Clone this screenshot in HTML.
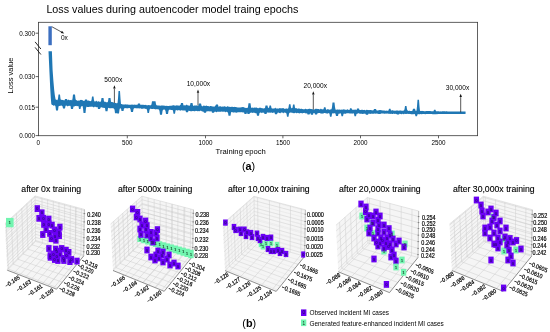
<!DOCTYPE html>
<html><head><meta charset="utf-8"><title>Loss values during autoencoder model training epochs</title>
<style>html,body{margin:0;padding:0;background:#fff}svg{display:block;font-family:"Liberation Sans", Arial, Helvetica, sans-serif}</style></head>
<body><svg width="550" height="332" viewBox="0 0 550 332">
<rect width="550" height="332" fill="#fff"/>
<text x="46.4" y="12.8" font-size="10.8" fill="#000" textLength="252" lengthAdjust="spacingAndGlyphs">Loss values during autoencoder model traing epochs</text>
<path d="M48.50 51.20 L51.90 51.20 L52.60 70.00 L53.40 81.00 L54.20 90.00 L54.80 95.00 L55.60 99.50 L56.00 99.54 L56.50 99.64 L57.00 100.18 L57.50 99.88 L58.00 98.59 L58.50 94.50 L59.00 94.50 L59.50 94.50 L60.00 94.50 L60.50 98.66 L61.00 99.89 L61.50 99.76 L62.00 99.77 L62.50 100.04 L63.00 100.05 L63.50 100.24 L64.00 100.25 L64.50 100.44 L65.00 99.00 L65.50 99.00 L66.00 99.00 L66.50 99.00 L67.00 99.00 L67.50 100.21 L68.00 100.22 L68.50 99.60 L69.00 99.83 L69.50 100.34 L70.00 100.35 L70.50 100.10 L71.00 100.11 L71.50 99.65 L72.00 100.63 L72.50 98.81 L73.00 94.50 L73.50 94.50 L74.00 94.50 L74.50 94.50 L75.00 94.50 L75.50 98.84 L76.00 100.19 L76.50 100.01 L77.00 100.45 L77.50 100.74 L78.00 100.76 L78.50 100.61 L79.00 100.62 L79.50 100.63 L80.00 99.97 L80.50 100.00 L81.00 99.86 L81.50 99.89 L82.00 99.96 L82.50 99.99 L83.00 100.93 L83.50 100.63 L84.00 100.87 L84.50 100.90 L85.00 99.50 L85.50 99.50 L86.00 99.50 L86.50 99.50 L87.00 99.50 L87.50 100.67 L88.00 100.70 L88.50 100.43 L89.00 100.46 L89.50 101.08 L90.00 101.11 L90.50 101.14 L91.00 101.08 L91.50 100.25 L92.00 96.50 L92.50 96.50 L93.00 96.50 L93.50 96.50 L94.00 100.32 L94.50 101.40 L95.00 101.43 L95.50 101.46 L96.00 100.75 L96.50 100.78 L97.00 101.60 L97.50 101.63 L98.00 101.19 L98.50 101.22 L99.00 101.51 L99.50 101.70 L100.00 101.73 L100.50 101.76 L101.00 101.28 L101.50 98.00 L102.00 98.00 L102.50 98.00 L103.00 98.00 L103.50 98.00 L104.00 101.39 L104.50 101.55 L105.00 102.22 L105.50 101.38 L106.00 102.24 L106.50 102.28 L107.00 102.13 L107.50 102.17 L108.00 101.53 L108.50 98.00 L109.00 98.00 L109.50 98.00 L110.00 98.00 L110.50 98.00 L111.00 101.64 L111.50 102.02 L112.00 102.12 L112.50 102.16 L113.00 102.06 L113.50 102.61 L114.00 102.99 L114.50 103.09 L115.00 102.88 L115.50 102.99 L116.00 102.85 L116.50 103.52 L117.00 103.01 L117.50 103.13 L118.00 98.48 L118.50 91.10 L119.00 91.10 L119.50 91.10 L120.00 91.10 L120.50 98.59 L121.00 104.16 L121.50 103.98 L122.00 104.11 L122.50 104.61 L123.00 104.54 L123.50 104.56 L124.00 104.57 L124.50 104.43 L125.00 104.44 L125.50 104.24 L126.00 104.40 L126.50 104.41 L127.00 104.55 L127.50 104.56 L128.00 104.58 L128.50 104.71 L129.00 104.73 L129.50 104.74 L130.00 104.78 L130.50 104.79 L131.00 104.80 L131.50 104.56 L132.00 104.78 L132.50 104.61 L133.00 104.63 L133.50 104.65 L134.00 104.66 L134.50 104.46 L135.00 104.81 L135.50 104.74 L136.00 104.76 L136.50 104.77 L137.00 104.79 L137.50 104.72 L138.00 103.50 L138.50 103.50 L139.00 103.50 L139.50 103.50 L140.00 103.50 L140.50 104.88 L141.00 104.68 L141.50 104.70 L142.00 104.71 L142.50 104.70 L143.00 104.72 L143.50 104.78 L144.00 105.05 L144.50 105.05 L145.00 104.87 L145.50 104.89 L146.00 104.81 L146.50 105.24 L147.00 105.26 L147.50 105.25 L148.00 105.26 L148.50 104.92 L149.00 104.94 L149.50 105.34 L150.00 105.25 L150.50 105.27 L151.00 105.29 L151.50 104.19 L152.00 101.30 L152.50 101.30 L153.00 101.30 L153.50 101.30 L154.00 101.30 L154.50 101.30 L155.00 101.30 L155.50 101.30 L156.00 104.31 L156.50 105.26 L157.00 105.28 L157.50 105.55 L158.00 105.57 L158.50 105.50 L159.00 105.52 L159.50 105.54 L160.00 105.70 L160.50 105.66 L161.00 105.56 L161.50 105.60 L162.00 105.47 L162.50 105.49 L163.00 105.42 L163.50 105.44 L164.00 105.69 L164.50 105.71 L165.00 105.54 L165.50 105.99 L166.00 105.98 L166.50 105.71 L167.00 105.71 L167.50 105.88 L168.00 105.88 L168.50 105.96 L169.00 105.96 L169.50 105.73 L170.00 105.73 L170.50 105.71 L171.00 105.86 L171.50 105.85 L172.00 105.60 L172.50 105.59 L173.00 105.33 L173.50 105.30 L174.00 105.27 L174.50 105.71 L175.00 105.35 L175.50 105.66 L176.00 105.65 L176.50 105.26 L177.00 105.23 L177.50 105.47 L178.00 105.46 L178.50 105.56 L179.00 105.85 L179.50 105.83 L180.00 104.93 L180.50 104.90 L181.00 103.00 L181.50 103.00 L182.00 103.00 L182.50 103.00 L183.00 103.00 L183.50 105.50 L184.00 105.25 L184.50 105.24 L185.00 105.52 L185.50 105.54 L186.00 104.82 L186.50 104.84 L187.00 104.85 L187.50 105.23 L188.00 105.52 L188.50 105.54 L189.00 105.55 L189.50 105.77 L190.00 105.58 L190.50 103.00 L191.00 103.00 L191.50 103.00 L192.00 103.00 L192.50 103.00 L193.00 105.62 L193.50 105.88 L194.00 105.50 L194.50 105.52 L195.00 105.53 L195.50 105.26 L196.00 106.00 L196.50 105.13 L197.00 105.15 L197.50 105.63 L198.00 105.65 L198.50 105.54 L199.00 103.50 L199.50 103.50 L200.00 103.50 L200.50 103.50 L201.00 103.50 L201.50 105.39 L202.00 106.22 L202.50 106.24 L203.00 106.26 L203.50 105.57 L204.00 105.59 L204.50 105.70 L205.00 105.98 L205.50 105.99 L206.00 105.55 L206.50 105.57 L207.00 105.92 L207.50 105.96 L208.00 105.95 L208.50 105.97 L209.00 106.48 L209.50 106.50 L210.00 105.95 L210.50 105.95 L211.00 105.97 L211.50 106.24 L212.00 106.26 L212.50 106.51 L213.00 106.53 L213.50 106.55 L214.00 106.68 L214.50 106.70 L215.00 105.81 L215.50 105.83 L216.00 104.50 L216.50 104.50 L217.00 104.50 L217.50 104.50 L218.00 104.50 L218.50 106.70 L219.00 106.72 L219.50 106.18 L220.00 106.20 L220.50 106.22 L221.00 106.38 L221.50 106.71 L222.00 106.73 L222.50 106.46 L223.00 106.48 L223.50 106.77 L224.00 106.35 L224.50 106.37 L225.00 106.39 L225.50 106.55 L226.00 107.01 L226.50 107.03 L227.00 106.29 L227.50 106.31 L228.00 106.41 L228.50 106.44 L229.00 107.11 L229.50 106.80 L230.00 106.82 L230.50 107.04 L231.00 107.06 L231.50 106.72 L232.00 106.74 L232.50 106.73 L233.00 107.03 L233.50 107.05 L234.00 107.07 L234.50 106.68 L235.00 106.90 L235.50 106.92 L236.00 106.94 L236.50 107.23 L237.00 107.26 L237.50 107.57 L238.00 107.59 L238.50 107.61 L239.00 107.52 L239.50 107.54 L240.00 107.45 L240.50 107.47 L241.00 107.35 L241.50 107.37 L242.00 107.30 L242.50 107.04 L243.00 107.06 L243.50 107.08 L244.00 107.57 L244.50 107.61 L245.00 107.64 L245.50 107.91 L246.00 107.77 L246.50 107.88 L247.00 107.90 L247.50 107.92 L248.00 106.72 L248.50 103.30 L249.00 103.30 L249.50 103.30 L250.00 103.30 L250.50 103.30 L251.00 106.76 L251.50 107.89 L252.00 107.90 L252.50 107.47 L253.00 107.48 L253.50 108.14 L254.00 107.37 L254.50 107.38 L255.00 107.97 L255.50 107.52 L256.00 107.53 L256.50 107.54 L257.00 107.63 L257.50 107.90 L258.00 108.25 L258.50 108.26 L259.00 107.67 L259.50 107.82 L260.00 107.85 L260.50 107.79 L261.00 107.80 L261.50 108.17 L262.00 108.11 L262.50 108.37 L263.00 108.38 L263.50 108.39 L264.00 108.23 L264.50 108.24 L265.00 107.89 L265.50 105.40 L266.00 105.40 L266.50 105.40 L267.00 105.40 L267.50 105.40 L268.00 107.69 L268.50 107.70 L269.00 107.92 L269.50 105.40 L270.00 105.40 L270.50 105.40 L271.00 105.40 L271.50 107.93 L272.00 108.41 L272.50 108.50 L273.00 108.51 L273.50 108.47 L274.00 108.47 L274.50 108.48 L275.00 107.84 L275.50 107.85 L276.00 108.54 L276.50 108.54 L277.00 108.55 L277.50 108.62 L278.00 108.62 L278.50 108.63 L279.00 108.36 L279.50 108.37 L280.00 108.12 L280.50 108.13 L281.00 108.50 L281.50 108.13 L282.00 108.14 L282.50 108.15 L283.00 108.07 L283.50 108.08 L284.00 108.66 L284.50 108.67 L285.00 108.73 L285.50 108.74 L286.00 108.39 L286.50 108.57 L287.00 108.58 L287.50 108.77 L288.00 108.78 L288.50 107.44 L289.00 104.20 L289.50 104.20 L290.00 104.20 L290.50 104.20 L291.00 107.46 L291.50 108.28 L292.00 108.35 L292.50 107.63 L293.00 104.50 L293.50 104.50 L294.00 104.50 L294.50 104.50 L295.00 107.66 L295.50 108.29 L296.00 108.31 L296.50 108.33 L297.00 108.34 L297.50 109.07 L298.00 108.57 L298.50 108.59 L299.00 108.53 L299.50 108.55 L300.00 109.09 L300.50 109.11 L301.00 108.58 L301.50 108.78 L302.00 108.92 L302.50 108.93 L303.00 109.21 L303.50 109.22 L304.00 109.23 L304.50 109.15 L305.00 108.99 L305.50 108.54 L306.00 109.18 L306.50 109.08 L307.00 109.27 L307.50 109.28 L308.00 108.96 L308.50 108.98 L309.00 108.78 L309.50 108.80 L310.00 108.81 L310.50 108.88 L311.00 109.08 L311.50 109.09 L312.00 109.37 L312.50 109.37 L313.00 109.36 L313.50 109.39 L314.00 109.40 L314.50 109.41 L315.00 108.75 L315.50 108.76 L316.00 109.09 L316.50 108.78 L317.00 108.79 L317.50 108.90 L318.00 108.91 L318.50 108.89 L319.00 108.89 L319.50 109.45 L320.00 109.46 L320.50 108.86 L321.00 108.87 L321.50 108.88 L322.00 109.39 L322.50 109.22 L323.00 109.23 L323.50 109.32 L324.00 107.30 L324.50 107.30 L325.00 107.30 L325.50 107.30 L326.00 109.33 L326.50 109.64 L327.00 109.65 L327.50 109.12 L328.00 109.24 L328.50 109.25 L329.00 109.66 L329.50 109.67 L330.00 109.38 L330.50 109.38 L331.00 109.19 L331.50 109.33 L332.00 106.96 L332.50 102.50 L333.00 102.50 L333.50 102.50 L334.00 102.50 L334.50 102.50 L335.00 106.97 L335.50 109.38 L336.00 109.69 L336.50 109.70 L337.00 109.57 L337.50 109.46 L338.00 109.47 L338.50 109.76 L339.00 109.44 L339.50 109.49 L340.00 109.76 L340.50 109.77 L341.00 109.77 L341.50 109.56 L342.00 109.66 L342.50 109.72 L343.00 109.22 L343.50 109.53 L344.00 109.30 L344.50 109.52 L345.00 109.69 L345.50 109.70 L346.00 109.70 L346.50 109.84 L347.00 109.85 L347.50 109.33 L348.00 109.33 L348.50 109.90 L349.00 109.90 L349.50 109.94 L350.00 108.30 L350.50 108.30 L351.00 108.30 L351.50 108.30 L352.00 109.62 L352.50 109.78 L353.00 109.74 L353.50 109.74 L354.00 109.67 L354.50 109.79 L355.00 109.52 L355.50 109.53 L356.00 110.00 L356.50 110.01 L357.00 108.50 L357.50 108.50 L358.00 108.50 L358.50 108.50 L359.00 108.50 L359.50 110.06 L360.00 110.06 L360.50 110.07 L361.00 110.08 L361.50 109.76 L362.00 109.77 L362.50 109.64 L363.00 110.07 L363.50 110.03 L364.00 110.04 L364.50 109.80 L365.00 110.16 L365.50 110.13 L366.00 110.15 L366.50 109.70 L367.00 109.71 L367.50 110.01 L368.00 110.02 L368.50 109.98 L369.00 110.16 L369.50 110.12 L370.00 109.96 L370.50 109.98 L371.00 109.92 L371.50 110.35 L372.00 110.36 L372.50 110.38 L373.00 110.14 L373.50 110.15 L374.00 109.00 L374.50 109.00 L375.00 109.00 L375.50 109.00 L376.00 109.00 L376.50 110.37 L377.00 110.38 L377.50 110.47 L378.00 110.43 L378.50 110.25 L379.00 110.26 L379.50 110.09 L380.00 110.10 L380.50 110.11 L381.00 110.24 L381.50 110.33 L382.00 110.34 L382.50 110.49 L383.00 110.50 L383.50 110.51 L384.00 110.58 L384.50 110.59 L385.00 110.66 L385.50 110.65 L386.00 110.66 L386.50 110.53 L387.00 110.64 L387.50 110.66 L388.00 110.67 L388.50 110.39 L389.00 108.70 L389.50 108.70 L390.00 108.70 L390.50 108.70 L391.00 110.43 L391.50 110.51 L392.00 110.30 L392.50 110.31 L393.00 110.32 L393.50 110.75 L394.00 110.58 L394.50 110.77 L395.00 110.82 L395.50 110.79 L396.00 110.55 L396.50 110.56 L397.00 110.57 L397.50 110.48 L398.00 110.48 L398.50 110.86 L399.00 110.87 L399.50 110.57 L400.00 110.58 L400.50 110.56 L401.00 110.57 L401.50 110.86 L402.00 110.87 L402.50 110.85 L403.00 110.86 L403.50 110.51 L404.00 110.52 L404.50 109.22 L405.00 106.10 L405.50 106.10 L406.00 106.10 L406.50 106.10 L407.00 109.23 L407.50 110.51 L408.00 110.52 L408.50 110.97 L409.00 110.91 L409.50 110.55 L410.00 110.94 L410.50 110.95 L411.00 110.94 L411.50 110.94 L412.00 110.95 L412.50 110.61 L413.00 108.80 L413.50 108.80 L414.00 108.80 L414.50 108.80 L415.00 108.80 L415.50 110.63 L416.00 110.65 L416.50 110.66 L417.00 106.13 L417.50 99.80 L418.00 99.80 L418.50 99.80 L419.00 99.80 L419.50 106.15 L420.00 110.72 L420.50 111.08 L421.00 111.09 L421.50 111.12 L422.00 110.81 L422.50 110.98 L423.00 110.99 L423.50 111.07 L424.00 111.16 L424.50 111.17 L425.00 111.17 L425.50 111.18 L426.00 110.94 L426.50 110.95 L427.00 110.93 L427.50 110.95 L428.00 110.99 L428.50 111.01 L429.00 111.02 L429.50 111.03 L430.00 111.12 L430.50 111.12 L431.00 111.26 L431.50 111.27 L432.00 111.28 L432.50 111.14 L433.00 111.15 L433.50 111.19 L434.00 109.80 L434.50 109.80 L435.00 109.80 L435.50 109.80 L436.00 111.20 L436.50 111.21 L437.00 111.29 L437.50 111.30 L438.00 111.26 L438.50 111.27 L439.00 111.29 L439.50 111.39 L440.00 111.39 L440.50 111.36 L441.00 111.39 L441.50 111.39 L442.00 111.36 L442.50 111.37 L443.00 111.37 L443.50 111.32 L444.00 111.35 L444.50 111.35 L445.00 111.35 L445.50 111.41 L446.00 111.35 L446.50 111.37 L447.00 111.37 L447.50 111.38 L448.00 111.39 L448.50 111.39 L449.00 111.45 L449.50 111.42 L450.00 111.45 L450.50 111.45 L451.00 111.46 L451.50 111.41 L452.00 111.46 L452.50 111.46 L453.00 111.46 L453.50 111.47 L454.00 111.46 L454.50 111.43 L455.00 111.43 L455.50 111.49 L456.00 111.48 L456.50 111.49 L457.00 111.50 L457.50 111.46 L458.00 111.46 L458.50 111.48 L459.00 111.48 L459.50 111.47 L460.00 111.47 L460.50 111.47 L461.00 111.47 L461.50 111.49 L462.00 111.50 L462.50 111.50 L463.00 111.50 L463.50 111.49 L464.00 111.49 L464.50 111.50 L465.00 111.53 L465.50 111.50 L465.60 112.80 L465.50 114.06 L465.00 114.06 L464.50 114.08 L464.00 114.08 L463.50 114.08 L463.00 114.08 L462.50 114.08 L462.00 114.08 L461.50 114.08 L461.00 114.06 L460.50 114.04 L460.00 114.04 L459.50 114.04 L459.00 114.04 L458.50 114.04 L458.00 114.06 L457.50 114.06 L457.00 114.09 L456.50 114.05 L456.00 114.05 L455.50 114.10 L455.00 114.06 L454.50 114.06 L454.00 114.11 L453.50 114.07 L453.00 114.11 L452.50 114.04 L452.00 114.04 L451.50 114.07 L451.00 114.03 L450.50 114.03 L450.00 114.03 L449.50 114.04 L449.00 114.05 L448.50 114.03 L448.00 114.03 L447.50 114.02 L447.00 114.02 L446.50 114.02 L446.00 114.05 L445.50 114.04 L445.00 114.08 L444.50 114.08 L444.00 114.08 L443.50 114.01 L443.00 114.04 L442.50 114.04 L442.00 114.04 L441.50 114.02 L441.00 114.02 L440.50 114.07 L440.00 114.11 L439.50 114.11 L439.00 114.07 L438.50 114.07 L438.00 114.07 L437.50 114.15 L437.00 113.99 L436.50 114.15 L436.00 114.15 L435.50 114.16 L435.00 114.16 L434.50 114.17 L434.00 114.18 L433.50 114.18 L433.00 114.15 L432.50 114.15 L432.00 114.06 L431.50 113.99 L431.00 113.99 L430.50 114.01 L430.00 113.99 L429.50 114.02 L429.00 114.02 L428.50 114.02 L428.00 113.94 L427.50 114.11 L427.00 114.11 L426.50 114.11 L426.00 114.11 L425.50 114.18 L425.00 114.18 L424.50 113.99 L424.00 113.99 L423.50 114.01 L423.00 113.94 L422.50 113.94 L422.00 114.14 L421.50 114.30 L421.00 113.96 L420.50 113.96 L420.00 114.21 L419.50 114.24 L419.00 114.21 L418.50 114.19 L418.00 113.91 L417.50 114.39 L417.00 116.30 L416.50 116.30 L416.00 116.30 L415.50 116.30 L415.00 114.38 L414.50 113.95 L414.00 114.00 L413.50 114.21 L413.00 114.20 L412.50 114.20 L412.00 114.23 L411.50 114.23 L411.00 114.23 L410.50 113.94 L410.00 113.94 L409.50 114.12 L409.00 113.86 L408.50 113.98 L408.00 113.88 L407.50 113.87 L407.00 113.87 L406.50 114.06 L406.00 114.06 L405.50 114.05 L405.00 113.84 L404.50 113.83 L404.00 114.18 L403.50 114.18 L403.00 113.74 L402.50 113.73 L402.00 114.21 L401.50 114.21 L401.00 113.89 L400.50 113.89 L400.00 113.70 L399.50 113.69 L399.00 114.50 L398.50 114.50 L398.00 114.50 L397.50 114.50 L397.00 114.50 L396.50 113.94 L396.00 113.93 L395.50 113.70 L395.00 113.86 L394.50 114.07 L394.00 113.77 L393.50 113.60 L393.00 113.94 L392.50 113.93 L392.00 113.93 L391.50 113.83 L391.00 113.82 L390.50 113.96 L390.00 113.64 L389.50 113.64 L389.00 113.98 L388.50 113.72 L388.00 113.52 L387.50 113.51 L387.00 113.79 L386.50 113.61 L386.00 113.63 L385.50 113.62 L385.00 113.73 L384.50 113.78 L384.00 113.77 L383.50 113.46 L383.00 113.46 L382.50 113.45 L382.00 113.61 L381.50 113.61 L381.00 113.49 L380.50 113.88 L380.00 113.88 L379.50 113.88 L379.00 113.94 L378.50 113.94 L378.00 113.63 L377.50 113.78 L377.00 113.42 L376.50 113.42 L376.00 113.67 L375.50 113.67 L375.00 113.55 L374.50 113.55 L374.00 113.64 L373.50 113.67 L373.00 113.67 L372.50 113.86 L372.00 113.86 L371.50 113.86 L371.00 113.49 L370.50 113.89 L370.00 113.89 L369.50 113.71 L369.00 113.39 L368.50 113.69 L368.00 114.70 L367.50 114.70 L367.00 114.70 L366.50 114.70 L366.00 114.70 L365.50 113.89 L365.00 113.53 L364.50 113.76 L364.00 113.82 L363.50 113.81 L363.00 113.94 L362.50 113.95 L362.00 113.78 L361.50 113.78 L361.00 113.75 L360.50 113.74 L360.00 113.74 L359.50 113.72 L359.00 113.32 L358.50 113.31 L358.00 113.31 L357.50 113.76 L357.00 113.76 L356.50 113.98 L356.00 116.30 L355.50 116.30 L355.00 116.30 L354.50 116.30 L354.00 113.97 L353.50 113.34 L353.00 113.33 L352.50 113.63 L352.00 113.40 L351.50 113.39 L351.00 113.54 L350.50 113.54 L350.00 113.39 L349.50 113.54 L349.00 113.34 L348.50 113.34 L348.00 113.29 L347.50 113.28 L347.00 113.31 L346.50 113.31 L346.00 113.74 L345.50 113.74 L345.00 113.74 L344.50 113.74 L344.00 113.56 L343.50 113.92 L343.00 116.30 L342.50 116.30 L342.00 116.30 L341.50 116.30 L341.00 113.91 L340.50 113.35 L340.00 113.34 L339.50 113.78 L339.00 113.76 L338.50 113.74 L338.00 116.00 L337.50 116.00 L337.00 116.00 L336.50 116.00 L336.00 116.00 L335.50 113.73 L335.00 113.34 L334.50 113.14 L334.00 113.13 L333.50 113.46 L333.00 113.35 L332.50 113.34 L332.00 114.06 L331.50 116.70 L331.00 116.70 L330.50 116.70 L330.00 116.70 L329.50 114.05 L329.00 113.10 L328.50 113.17 L328.00 113.17 L327.50 113.63 L327.00 113.56 L326.50 113.55 L326.00 113.16 L325.50 113.16 L325.00 113.08 L324.50 113.07 L324.00 113.07 L323.50 113.43 L323.00 113.58 L322.50 113.57 L322.00 113.65 L321.50 113.41 L321.00 113.40 L320.50 113.40 L320.00 113.05 L319.50 113.05 L319.00 113.04 L318.50 113.03 L318.00 113.13 L317.50 113.13 L317.00 114.50 L316.50 114.50 L316.00 114.50 L315.50 114.50 L315.00 114.50 L314.50 113.02 L314.00 113.01 L313.50 113.01 L313.00 114.70 L312.50 114.70 L312.00 114.70 L311.50 114.70 L311.00 114.70 L310.50 113.13 L310.00 113.42 L309.50 114.50 L309.00 114.50 L308.50 114.50 L308.00 114.50 L307.50 114.50 L307.00 112.96 L306.50 113.66 L306.00 112.91 L305.50 113.54 L305.00 113.21 L304.50 112.87 L304.00 112.93 L303.50 112.92 L303.00 112.91 L302.50 113.38 L302.00 113.37 L301.50 112.97 L301.00 113.31 L300.50 113.08 L300.00 113.07 L299.50 113.45 L299.00 113.44 L298.50 113.02 L298.00 113.01 L297.50 112.82 L297.00 113.14 L296.50 113.13 L296.00 113.12 L295.50 112.83 L295.00 112.82 L294.50 113.19 L294.00 113.18 L293.50 113.17 L293.00 112.81 L292.50 112.80 L292.00 113.30 L291.50 112.60 L291.00 112.58 L290.50 112.57 L290.00 112.81 L289.50 112.80 L289.00 113.69 L288.50 116.70 L288.00 116.70 L287.50 116.70 L287.00 116.70 L286.50 113.68 L286.00 113.10 L285.50 112.78 L285.00 112.78 L284.50 112.51 L284.00 112.51 L283.50 113.31 L283.00 113.31 L282.50 112.50 L282.00 112.50 L281.50 112.50 L281.00 112.58 L280.50 113.31 L280.00 113.31 L279.50 113.01 L279.00 113.00 L278.50 112.49 L278.00 112.48 L277.50 112.88 L277.00 114.20 L276.50 114.20 L276.00 114.20 L275.50 114.20 L275.00 114.20 L274.50 112.55 L274.00 112.55 L273.50 112.55 L273.00 112.88 L272.50 112.88 L272.00 112.53 L271.50 112.52 L271.00 112.76 L270.50 112.75 L270.00 112.50 L269.50 112.50 L269.00 112.95 L268.50 112.51 L268.00 112.51 L267.50 112.51 L267.00 112.50 L266.50 114.00 L266.00 114.00 L265.50 114.00 L265.00 114.00 L264.50 114.00 L264.00 112.55 L263.50 112.74 L263.00 112.73 L262.50 112.73 L262.00 112.46 L261.50 113.14 L261.00 112.38 L260.50 112.38 L260.00 112.70 L259.50 113.06 L259.00 115.80 L258.50 115.80 L258.00 115.80 L257.50 115.80 L257.00 115.80 L256.50 113.15 L256.00 113.15 L255.50 113.14 L255.00 113.09 L254.50 112.64 L254.00 112.64 L253.50 112.58 L253.00 113.02 L252.50 113.02 L252.00 112.59 L251.50 112.59 L251.00 113.04 L250.50 112.63 L250.00 112.63 L249.50 114.00 L249.00 114.00 L248.50 114.00 L248.00 114.00 L247.50 114.00 L247.00 112.19 L246.50 113.90 L246.00 113.90 L245.50 113.90 L245.00 113.90 L244.50 113.90 L244.00 112.32 L243.50 112.46 L243.00 112.44 L242.50 112.43 L242.00 112.09 L241.50 112.31 L241.00 112.30 L240.50 112.16 L240.00 112.14 L239.50 112.14 L239.00 112.13 L238.50 112.30 L238.00 112.29 L237.50 112.28 L237.00 112.73 L236.50 112.72 L236.00 112.41 L235.50 112.40 L235.00 112.38 L234.50 112.14 L234.00 112.44 L233.50 112.43 L233.00 112.41 L232.50 112.31 L232.00 112.09 L231.50 112.08 L231.00 112.68 L230.50 115.80 L230.00 115.80 L229.50 115.80 L229.00 115.80 L228.50 115.80 L228.00 112.63 L227.50 112.14 L227.00 112.12 L226.50 111.67 L226.00 111.66 L225.50 112.43 L225.00 111.66 L224.50 111.65 L224.00 111.58 L223.50 111.83 L223.00 111.84 L222.50 111.83 L222.00 111.61 L221.50 111.60 L221.00 111.64 L220.50 111.87 L220.00 111.86 L219.50 111.85 L219.00 111.69 L218.50 111.68 L218.00 111.66 L217.50 111.44 L217.00 112.23 L216.50 112.21 L216.00 111.69 L215.50 111.67 L215.00 111.65 L214.50 111.65 L214.00 112.80 L213.50 112.80 L213.00 112.80 L212.50 112.80 L212.00 112.80 L211.50 111.25 L211.00 111.36 L210.50 111.34 L210.00 111.71 L209.50 111.29 L209.00 111.28 L208.50 111.16 L208.00 111.14 L207.50 111.28 L207.00 111.57 L206.50 111.20 L206.00 112.80 L205.50 112.80 L205.00 112.80 L204.50 112.80 L204.00 112.80 L203.50 111.68 L203.00 111.54 L202.50 111.52 L202.00 111.50 L201.50 110.88 L201.00 110.86 L200.50 110.84 L200.00 110.81 L199.50 111.15 L199.00 111.13 L198.50 111.11 L198.00 111.24 L197.50 111.22 L197.00 110.95 L196.50 110.93 L196.00 110.65 L195.50 111.10 L195.00 111.35 L194.50 111.33 L194.00 111.32 L193.50 110.98 L193.00 110.97 L192.50 110.96 L192.00 111.18 L191.50 111.16 L191.00 111.15 L190.50 111.26 L190.00 111.12 L189.50 111.10 L189.00 110.67 L188.50 110.66 L188.00 112.30 L187.50 112.30 L187.00 112.30 L186.50 112.30 L186.00 112.30 L185.50 110.50 L185.00 110.48 L184.50 110.60 L184.00 110.56 L183.50 110.27 L183.00 110.91 L182.50 110.35 L182.00 110.31 L181.50 110.09 L181.00 110.87 L180.50 110.45 L180.00 110.40 L179.50 110.20 L179.00 110.17 L178.50 109.99 L178.00 110.40 L177.50 110.38 L177.00 110.34 L176.50 110.31 L176.00 109.86 L175.50 110.78 L175.00 113.70 L174.50 113.70 L174.00 113.70 L173.50 113.70 L173.00 110.78 L172.50 110.04 L172.00 110.02 L171.50 109.94 L171.00 109.92 L170.50 109.78 L170.00 109.77 L169.50 109.76 L169.00 109.69 L168.50 110.91 L168.00 114.00 L167.50 114.00 L167.00 114.00 L166.50 114.00 L166.00 114.00 L165.50 110.90 L165.00 110.08 L164.50 109.58 L164.00 109.54 L163.50 109.66 L163.00 109.63 L162.50 111.23 L162.00 114.80 L161.50 114.80 L161.00 114.80 L160.50 114.80 L160.00 114.80 L159.50 111.15 L159.00 109.51 L158.50 109.48 L158.00 109.36 L157.50 109.32 L157.00 109.37 L156.50 109.33 L156.00 109.04 L155.50 109.41 L155.00 109.37 L154.50 108.93 L154.00 108.88 L153.50 108.85 L153.00 109.01 L152.50 108.95 L152.00 109.06 L151.50 109.03 L151.00 108.83 L150.50 108.80 L150.00 108.76 L149.50 109.99 L149.00 113.00 L148.50 113.00 L148.00 113.00 L147.50 113.00 L147.00 109.95 L146.50 108.91 L146.00 108.75 L145.50 108.88 L145.00 108.87 L144.50 108.48 L144.00 108.51 L143.50 108.42 L143.00 108.80 L142.50 108.78 L142.00 108.80 L141.50 108.78 L141.00 108.76 L140.50 108.36 L140.00 108.35 L139.50 108.47 L139.00 108.45 L138.50 108.28 L138.00 108.26 L137.50 108.24 L137.00 108.43 L136.50 108.15 L136.00 108.14 L135.50 108.12 L135.00 108.46 L134.50 108.10 L134.00 108.27 L133.50 109.23 L133.00 112.00 L132.50 112.00 L132.00 112.00 L131.50 112.00 L131.00 112.00 L130.50 109.20 L130.00 108.16 L129.50 108.02 L129.00 108.00 L128.50 107.99 L128.00 108.39 L127.50 108.37 L127.00 108.36 L126.50 108.29 L126.00 108.28 L125.50 108.01 L125.00 108.26 L124.50 108.25 L124.00 108.62 L123.50 111.00 L123.00 111.00 L122.50 111.00 L122.00 111.00 L121.50 111.00 L121.00 108.56 L120.50 108.42 L120.00 108.14 L119.50 109.70 L119.00 113.40 L118.50 113.40 L118.00 113.40 L117.50 113.40 L117.00 113.20 L116.50 113.20 L116.00 113.20 L115.50 113.20 L115.00 113.20 L114.50 109.39 L114.00 108.96 L113.50 108.10 L113.00 108.68 L112.50 107.95 L112.00 107.91 L111.50 108.21 L111.00 108.17 L110.50 108.13 L110.00 108.25 L109.50 108.21 L109.00 108.01 L108.50 107.87 L108.00 108.13 L107.50 111.20 L107.00 111.20 L106.50 111.20 L106.00 111.20 L105.50 111.20 L105.00 108.03 L104.50 108.10 L104.00 107.82 L103.50 107.78 L103.00 107.95 L102.50 107.44 L102.00 107.41 L101.50 107.28 L101.00 107.28 L100.50 107.67 L100.00 109.00 L99.50 109.00 L99.00 109.00 L98.50 109.00 L98.00 109.00 L97.50 106.93 L97.00 106.90 L96.50 107.16 L96.00 107.13 L95.50 106.79 L95.00 106.76 L94.50 106.73 L94.00 107.60 L93.50 107.14 L93.00 107.11 L92.50 106.62 L92.00 107.04 L91.50 106.61 L91.00 106.76 L90.50 106.72 L90.00 106.69 L89.50 106.66 L89.00 107.07 L88.50 107.04 L88.00 106.96 L87.50 106.93 L87.00 106.90 L86.50 106.60 L86.00 108.33 L85.50 113.00 L85.00 113.00 L84.50 113.00 L84.00 113.00 L83.50 113.00 L83.00 108.24 L82.50 106.00 L82.00 105.97 L81.50 106.49 L81.00 106.46 L80.50 109.00 L80.00 109.00 L79.50 109.00 L79.00 109.00 L78.50 106.13 L78.00 106.08 L77.50 106.06 L77.00 106.62 L76.50 105.74 L76.00 106.07 L75.50 106.03 L75.00 106.01 L74.50 106.52 L74.00 106.51 L73.50 106.41 L73.00 109.00 L72.50 109.00 L72.00 109.00 L71.50 109.00 L71.00 109.00 L70.50 106.03 L70.00 105.76 L69.50 105.75 L69.00 105.98 L68.50 105.80 L68.00 106.18 L67.50 106.17 L67.00 106.16 L66.50 105.43 L66.00 105.42 L65.50 106.08 L65.00 108.50 L64.50 108.50 L64.00 108.50 L63.50 108.50 L63.00 108.50 L62.50 106.26 L62.00 105.63 L61.50 105.62 L61.00 105.83 L60.50 105.73 L60.00 105.74 L59.50 106.02 L59.00 105.99 L58.50 106.60 L58.00 110.50 L57.50 110.50 L57.00 110.50 L56.50 110.50 L56.00 110.50 L55.50 106.51 L55.00 105.40 L54.50 105.23 L54.00 105.80 L53.50 105.77 L53.00 105.25 L52.50 105.06 L52.00 105.03 L51.30 104.00 L50.80 98.00 L50.20 88.00 L49.60 75.00 L48.90 60.00Z" fill="#1f77b4"/>
<rect x="48.4" y="26.3" width="3.4" height="18.9" fill="#3c6fc0"/>
<rect x="38.5" y="22.3" width="439.1" height="113.39999999999999" fill="none" stroke="#3a3a3a" stroke-width="0.8"/>
<path d="M35.1 41.9 L40.9 49 M35.1 47.4 L40.9 54.5" stroke="#111" stroke-width="0.9" fill="none"/>
<path d="M35.6 33.2 H38.5" stroke="#3a3a3a" stroke-width="0.8"/>
<text transform="translate(34.90 35.50)" font-size="6.3" text-anchor="end" fill="#000">0.300</text>
<path d="M35.6 76.6 H38.5" stroke="#3a3a3a" stroke-width="0.8"/>
<text transform="translate(34.90 78.90)" font-size="6.3" text-anchor="end" fill="#000">0.030</text>
<path d="M35.6 107.2 H38.5" stroke="#3a3a3a" stroke-width="0.8"/>
<text transform="translate(34.90 109.50)" font-size="6.3" text-anchor="end" fill="#000">0.015</text>
<path d="M35.6 135.6 H38.5" stroke="#3a3a3a" stroke-width="0.8"/>
<text transform="translate(34.90 137.90)" font-size="6.3" text-anchor="end" fill="#000">0.000</text>
<text transform="translate(38.30 145.00)" font-size="6.3" text-anchor="middle" fill="#000">0</text>
<path d="M127.3 135.7 V138.29999999999998" stroke="#3a3a3a" stroke-width="0.8"/>
<text transform="translate(127.30 145.00)" font-size="6.3" text-anchor="middle" fill="#000">500</text>
<path d="M205.5 135.7 V138.29999999999998" stroke="#3a3a3a" stroke-width="0.8"/>
<text transform="translate(205.50 145.00)" font-size="6.3" text-anchor="middle" fill="#000">1000</text>
<path d="M282.9 135.7 V138.29999999999998" stroke="#3a3a3a" stroke-width="0.8"/>
<text transform="translate(282.90 145.00)" font-size="6.3" text-anchor="middle" fill="#000">1500</text>
<path d="M360.5 135.7 V138.29999999999998" stroke="#3a3a3a" stroke-width="0.8"/>
<text transform="translate(360.50 145.00)" font-size="6.3" text-anchor="middle" fill="#000">2000</text>
<path d="M438.5 135.7 V138.29999999999998" stroke="#3a3a3a" stroke-width="0.8"/>
<text transform="translate(438.50 145.00)" font-size="6.3" text-anchor="middle" fill="#000">2500</text>
<text transform="translate(13.00 75.50) rotate(-90)" font-size="7.5" text-anchor="middle" fill="#000">Loss value</text>
<text transform="translate(240.70 153.60)" font-size="7.66" text-anchor="middle" fill="#000">Training epoch</text>
<path d="M51.80 26.70 L61.31 31.91" stroke="#111" stroke-width="0.7"/>
<path d="M64.20 33.50 L60.71 33.01 L61.91 30.82 Z" fill="#111"/>
<text transform="translate(64.40 40.00)" font-size="6.6" text-anchor="middle" fill="#000">0x</text>
<path d="M114.40 103.00 L114.40 88.60" stroke="#111" stroke-width="0.7"/>
<path d="M114.40 85.30 L115.65 88.60 L113.15 88.60 Z" fill="#111"/>
<text transform="translate(113.20 82.00)" font-size="6.6" text-anchor="middle" fill="#000">5000x</text>
<path d="M198.00 105.30 L198.00 92.80" stroke="#111" stroke-width="0.7"/>
<path d="M198.00 89.50 L199.25 92.80 L196.75 92.80 Z" fill="#111"/>
<text transform="translate(198.40 86.20)" font-size="6.6" text-anchor="middle" fill="#000">10,000x</text>
<path d="M313.30 109.50 L313.30 94.50" stroke="#111" stroke-width="0.7"/>
<path d="M313.30 91.20 L314.55 94.50 L312.05 94.50 Z" fill="#111"/>
<text transform="translate(315.20 88.00)" font-size="6.6" text-anchor="middle" fill="#000">20,000x</text>
<path d="M460.70 112.30 L460.70 97.10" stroke="#111" stroke-width="0.7"/>
<path d="M460.70 93.80 L461.95 97.10 L459.45 97.10 Z" fill="#111"/>
<text transform="translate(457.50 90.20)" font-size="6.6" text-anchor="middle" fill="#000">30,000x</text>
<text x="248.6" y="169.6" font-size="10.8" text-anchor="middle" fill="#000">(<tspan font-weight="bold">a</tspan>)</text>
<text x="249.2" y="327.0" font-size="10.8" text-anchor="middle" fill="#000">(<tspan font-weight="bold">b</tspan>)</text>
<polygon points="7.22,270.20 56.56,289.20 83.73,255.90 35.63,241.40" fill="#f5f5f5"/>
<polygon points="7.22,270.20 35.63,241.40 35.06,195.90 4.91,223.70" fill="#f5f5f5"/>
<polygon points="35.63,241.40 83.73,255.90 84.40,209.40 35.06,195.90" fill="#f5f5f5"/>
<path d="" stroke="#e3e3e3" stroke-width="0.5" fill="none"/>
<path d="M19.80 275.04L47.90 245.10M47.90 245.10L47.64 199.34M31.15 279.41L58.96 248.43M58.96 248.43L58.99 202.45M42.50 283.78L70.02 251.77M70.02 251.77L70.34 205.55M53.60 288.06L80.84 255.03M80.84 255.03L81.44 208.59M14.12 272.86L42.37 243.43M42.37 243.43L41.96 197.79M25.47 277.23L53.43 246.76M53.43 246.76L53.31 200.89M36.82 281.60L64.49 250.10M64.49 250.10L64.66 204.00M47.92 285.88L75.31 253.36M75.31 253.36L75.76 207.04M48.17 285.97L75.55 253.44M75.55 253.44L76.01 207.11M32.22 244.86L80.47 259.90M32.22 244.86L31.44 199.24M27.96 249.18L76.39 264.89M27.96 249.18L26.92 203.41M23.13 254.07L71.77 270.55M23.13 254.07L21.79 208.13M18.01 259.26L66.88 276.55M18.01 259.26L16.37 213.14M13.18 264.15L62.27 282.21M13.18 264.15L11.24 217.86M8.35 269.05L57.65 287.87M8.35 269.05L6.12 222.59M7.01 266.10L35.58 237.39M35.58 237.39L83.79 251.80M6.70 259.80L35.50 231.22M35.50 231.22L83.88 245.50M6.31 252.00L35.41 223.59M35.41 223.59L83.99 237.70M5.92 244.00L35.31 215.76M35.31 215.76L84.11 229.70M5.53 236.20L35.21 208.13M35.21 208.13L84.22 221.90M5.12 227.90L35.11 200.01M35.11 200.01L84.34 213.60M7.17 269.27L35.62 240.49M35.62 240.49L83.74 254.97M6.86 262.95L35.54 234.30M35.54 234.30L83.83 248.65M6.55 256.67L35.46 228.16M35.46 228.16L83.92 242.37M6.47 255.13L35.45 226.66M35.45 226.66L83.95 240.83M6.16 248.86L35.37 220.52M35.37 220.52L84.04 234.56M6.07 247.14L35.35 218.83M35.35 218.83L84.06 232.84M5.76 240.86L35.27 212.69M35.27 212.69L84.15 226.56M5.69 239.37L35.25 211.23M35.25 211.23L84.17 225.07M5.38 233.05L35.17 205.05M35.17 205.05L84.26 218.75M5.28 231.05L35.15 203.09M35.15 203.09L84.29 216.75M4.96 224.77L35.07 196.95M35.07 196.95L84.38 210.47M35.63 241.40L35.06 195.90M35.06 195.90L84.40 209.40M35.06 195.90L4.91 223.70M35.63 241.40L83.73 255.90M35.63 241.40L7.22 270.20" stroke="#cdcdcd" stroke-width="0.5" fill="none"/>
<path d="M7.22 270.20L56.56 289.20L83.73 255.90" stroke="#555" stroke-width="0.65" fill="none"/>
<path d="M83.73 255.90L84.40 209.40" stroke="#8a8a8a" stroke-width="0.55" fill="none"/>
<text transform="translate(86.30 255.00) scale(0.86 1)" font-size="6.4" text-anchor="start" fill="#000" stroke="#000" stroke-width="0.18">0.230</text>
<text transform="translate(86.44 248.70) scale(0.86 1)" font-size="6.4" text-anchor="start" fill="#000" stroke="#000" stroke-width="0.18">0.232</text>
<text transform="translate(86.62 240.90) scale(0.86 1)" font-size="6.4" text-anchor="start" fill="#000" stroke="#000" stroke-width="0.18">0.234</text>
<text transform="translate(86.81 232.90) scale(0.86 1)" font-size="6.4" text-anchor="start" fill="#000" stroke="#000" stroke-width="0.18">0.236</text>
<text transform="translate(86.99 225.10) scale(0.86 1)" font-size="6.4" text-anchor="start" fill="#000" stroke="#000" stroke-width="0.18">0.238</text>
<text transform="translate(87.18 216.80) scale(0.86 1)" font-size="6.4" text-anchor="start" fill="#000" stroke="#000" stroke-width="0.18">0.240</text>
<text transform="translate(20.10 278.44) scale(0.86 1) rotate(-31)" font-size="6.0" text-anchor="end" fill="#000" stroke="#000" stroke-width="0.18">−0.165</text>
<text transform="translate(31.45 282.81) scale(0.86 1) rotate(-31)" font-size="6.0" text-anchor="end" fill="#000" stroke="#000" stroke-width="0.18">−0.163</text>
<text transform="translate(42.80 287.18) scale(0.86 1) rotate(-31)" font-size="6.0" text-anchor="end" fill="#000" stroke="#000" stroke-width="0.18">−0.161</text>
<text transform="translate(53.90 291.46) scale(0.86 1) rotate(-31)" font-size="6.0" text-anchor="end" fill="#000" stroke="#000" stroke-width="0.18">−0.159</text>
<text transform="translate(81.47 262.30) scale(0.86 1) rotate(20)" font-size="6.2" text-anchor="start" fill="#000" stroke="#000" stroke-width="0.18">−0.218</text>
<text transform="translate(77.39 267.29) scale(0.86 1) rotate(20)" font-size="6.2" text-anchor="start" fill="#000" stroke="#000" stroke-width="0.18">−0.220</text>
<text transform="translate(72.77 272.95) scale(0.86 1) rotate(20)" font-size="6.2" text-anchor="start" fill="#000" stroke="#000" stroke-width="0.18">−0.222</text>
<text transform="translate(67.88 278.95) scale(0.86 1) rotate(20)" font-size="6.2" text-anchor="start" fill="#000" stroke="#000" stroke-width="0.18">−0.224</text>
<text transform="translate(63.27 284.61) scale(0.86 1) rotate(20)" font-size="6.2" text-anchor="start" fill="#000" stroke="#000" stroke-width="0.18">−0.226</text>
<text transform="translate(58.65 290.27) scale(0.86 1) rotate(20)" font-size="6.2" text-anchor="start" fill="#000" stroke="#000" stroke-width="0.18">−0.228</text>
<path d="M82.97 251.80h1.7M83.07 245.50h1.7M83.18 237.70h1.7M83.29 229.70h1.7M83.41 221.90h1.7M83.53 213.60h1.7" stroke="#444" stroke-width="0.5" fill="none"/>
<text x="21.3" y="192.0" font-size="8.7" fill="#000" stroke="#000" stroke-width="0.12">after 0x training</text>
<rect x="34.65" y="205.20" width="5.3" height="6.8" fill="#6a00f4"/>
<rect x="39.25" y="209.40" width="5.3" height="6.8" fill="#6a00f4"/>
<rect x="36.35" y="214.90" width="5.3" height="6.8" fill="#6a00f4"/>
<rect x="40.75" y="214.90" width="5.3" height="6.8" fill="#6a00f4"/>
<rect x="46.15" y="215.70" width="5.3" height="6.8" fill="#6a00f4"/>
<rect x="41.15" y="221.00" width="5.3" height="6.8" fill="#6a00f4"/>
<rect x="46.15" y="220.60" width="5.3" height="6.8" fill="#6a00f4"/>
<rect x="49.45" y="221.70" width="5.3" height="6.8" fill="#6a00f4"/>
<rect x="57.25" y="223.70" width="5.3" height="6.8" fill="#6a00f4"/>
<rect x="43.45" y="226.20" width="5.3" height="6.8" fill="#6a00f4"/>
<rect x="51.75" y="226.60" width="5.3" height="6.8" fill="#6a00f4"/>
<rect x="56.25" y="228.50" width="5.3" height="6.8" fill="#6a00f4"/>
<rect x="40.15" y="231.10" width="5.3" height="6.8" fill="#6a00f4"/>
<rect x="47.15" y="230.00" width="5.3" height="6.8" fill="#6a00f4"/>
<rect x="52.45" y="233.00" width="5.3" height="6.8" fill="#6a00f4"/>
<rect x="56.65" y="232.30" width="5.3" height="6.8" fill="#6a00f4"/>
<rect x="48.75" y="235.30" width="5.3" height="6.8" fill="#6a00f4"/>
<rect x="53.25" y="236.80" width="5.3" height="6.8" fill="#6a00f4"/>
<rect x="46.25" y="245.10" width="5.3" height="6.8" fill="#6a00f4"/>
<rect x="53.05" y="245.70" width="5.3" height="6.8" fill="#6a00f4"/>
<rect x="59.05" y="245.10" width="5.3" height="6.8" fill="#6a00f4"/>
<rect x="63.45" y="246.80" width="5.3" height="6.8" fill="#6a00f4"/>
<rect x="54.15" y="247.90" width="5.3" height="6.8" fill="#6a00f4"/>
<rect x="66.15" y="249.00" width="5.3" height="6.8" fill="#6a00f4"/>
<rect x="50.85" y="250.60" width="5.3" height="6.8" fill="#6a00f4"/>
<rect x="57.25" y="250.60" width="5.3" height="6.8" fill="#6a00f4"/>
<rect x="47.65" y="252.20" width="5.3" height="6.8" fill="#6a00f4"/>
<rect x="63.95" y="252.00" width="5.3" height="6.8" fill="#6a00f4"/>
<rect x="54.15" y="252.80" width="5.3" height="6.8" fill="#6a00f4"/>
<rect x="47.65" y="253.90" width="5.3" height="6.8" fill="#6a00f4"/>
<rect x="60.75" y="255.00" width="5.3" height="6.8" fill="#6a00f4"/>
<rect x="51.95" y="256.10" width="5.3" height="6.8" fill="#6a00f4"/>
<rect x="55.25" y="257.10" width="5.3" height="6.8" fill="#6a00f4"/>
<rect x="68.85" y="256.10" width="5.3" height="6.8" fill="#6a00f4"/>
<rect x="67.25" y="258.20" width="5.3" height="6.8" fill="#6a00f4"/>
<rect x="74.35" y="257.70" width="5.3" height="6.8" fill="#6a00f4"/>
<rect x="61.25" y="257.10" width="5.3" height="6.8" fill="#6a00f4"/>
<rect x="6.00" y="217.90" width="7.6" height="9.4" fill="#72f5b0"/>
<text x="37.30" y="210.25" font-size="4.4" font-weight="bold" text-anchor="middle" fill="#2b0878">0</text>
<text x="41.90" y="214.45" font-size="4.4" font-weight="bold" text-anchor="middle" fill="#2b0878">0</text>
<text x="39.00" y="219.95" font-size="4.4" font-weight="bold" text-anchor="middle" fill="#2b0878">0</text>
<text x="43.40" y="219.95" font-size="4.4" font-weight="bold" text-anchor="middle" fill="#2b0878">0</text>
<text x="48.80" y="220.75" font-size="4.4" font-weight="bold" text-anchor="middle" fill="#2b0878">0</text>
<text x="43.80" y="226.05" font-size="4.4" font-weight="bold" text-anchor="middle" fill="#2b0878">0</text>
<text x="48.80" y="225.65" font-size="4.4" font-weight="bold" text-anchor="middle" fill="#2b0878">0</text>
<text x="52.10" y="226.75" font-size="4.4" font-weight="bold" text-anchor="middle" fill="#2b0878">0</text>
<text x="59.90" y="228.75" font-size="4.4" font-weight="bold" text-anchor="middle" fill="#2b0878">0</text>
<text x="46.10" y="231.25" font-size="4.4" font-weight="bold" text-anchor="middle" fill="#2b0878">0</text>
<text x="54.40" y="231.65" font-size="4.4" font-weight="bold" text-anchor="middle" fill="#2b0878">0</text>
<text x="58.90" y="233.55" font-size="4.4" font-weight="bold" text-anchor="middle" fill="#2b0878">0</text>
<text x="42.80" y="236.15" font-size="4.4" font-weight="bold" text-anchor="middle" fill="#2b0878">0</text>
<text x="49.80" y="235.05" font-size="4.4" font-weight="bold" text-anchor="middle" fill="#2b0878">0</text>
<text x="55.10" y="238.05" font-size="4.4" font-weight="bold" text-anchor="middle" fill="#2b0878">0</text>
<text x="59.30" y="237.35" font-size="4.4" font-weight="bold" text-anchor="middle" fill="#2b0878">0</text>
<text x="51.40" y="240.35" font-size="4.4" font-weight="bold" text-anchor="middle" fill="#2b0878">0</text>
<text x="55.90" y="241.85" font-size="4.4" font-weight="bold" text-anchor="middle" fill="#2b0878">0</text>
<text x="48.90" y="250.15" font-size="4.4" font-weight="bold" text-anchor="middle" fill="#2b0878">0</text>
<text x="55.70" y="250.75" font-size="4.4" font-weight="bold" text-anchor="middle" fill="#2b0878">0</text>
<text x="61.70" y="250.15" font-size="4.4" font-weight="bold" text-anchor="middle" fill="#2b0878">0</text>
<text x="66.10" y="251.85" font-size="4.4" font-weight="bold" text-anchor="middle" fill="#2b0878">0</text>
<text x="56.80" y="252.95" font-size="4.4" font-weight="bold" text-anchor="middle" fill="#2b0878">0</text>
<text x="68.80" y="254.05" font-size="4.4" font-weight="bold" text-anchor="middle" fill="#2b0878">0</text>
<text x="53.50" y="255.65" font-size="4.4" font-weight="bold" text-anchor="middle" fill="#2b0878">0</text>
<text x="59.90" y="255.65" font-size="4.4" font-weight="bold" text-anchor="middle" fill="#2b0878">0</text>
<text x="50.30" y="257.25" font-size="4.4" font-weight="bold" text-anchor="middle" fill="#2b0878">0</text>
<text x="66.60" y="257.05" font-size="4.4" font-weight="bold" text-anchor="middle" fill="#2b0878">0</text>
<text x="56.80" y="257.85" font-size="4.4" font-weight="bold" text-anchor="middle" fill="#2b0878">0</text>
<text x="50.30" y="258.95" font-size="4.4" font-weight="bold" text-anchor="middle" fill="#2b0878">0</text>
<text x="63.40" y="260.05" font-size="4.4" font-weight="bold" text-anchor="middle" fill="#2b0878">0</text>
<text x="54.60" y="261.15" font-size="4.4" font-weight="bold" text-anchor="middle" fill="#2b0878">0</text>
<text x="57.90" y="262.15" font-size="4.4" font-weight="bold" text-anchor="middle" fill="#2b0878">0</text>
<text x="71.50" y="261.15" font-size="4.4" font-weight="bold" text-anchor="middle" fill="#2b0878">0</text>
<text x="69.90" y="263.25" font-size="4.4" font-weight="bold" text-anchor="middle" fill="#2b0878">0</text>
<text x="77.00" y="262.75" font-size="4.4" font-weight="bold" text-anchor="middle" fill="#2b0878">0</text>
<text x="63.90" y="262.15" font-size="4.4" font-weight="bold" text-anchor="middle" fill="#2b0878">0</text>
<text x="9.80" y="224.25" font-size="4.4" font-weight="bold" text-anchor="middle" fill="#1d4a33">1</text>
<polygon points="113.00,270.50 164.20,291.30 192.70,256.20 142.60,241.70" fill="#f5f5f5"/>
<polygon points="113.00,270.50 142.60,241.70 142.00,196.20 110.60,224.00" fill="#f5f5f5"/>
<polygon points="142.60,241.70 192.70,256.20 193.40,209.70 142.00,196.20" fill="#f5f5f5"/>
<path d="" stroke="#e3e3e3" stroke-width="0.5" fill="none"/>
<path d="M125.08 275.41L154.42 245.12M154.42 245.12L154.13 199.39M137.06 280.28L166.15 248.51M166.15 248.51L166.16 202.54M148.84 285.06L177.67 251.85M177.67 251.85L177.98 205.65M161.64 290.26L190.19 255.47M190.19 255.47L190.83 209.02M119.09 272.98L148.56 243.43M148.56 243.43L148.12 197.81M131.07 277.84L160.29 246.82M160.29 246.82L160.14 200.97M142.85 282.63L171.81 250.15M171.81 250.15L171.97 204.07M143.05 282.71L172.01 250.21M172.01 250.21L172.17 204.12M154.83 287.49L183.53 253.55M183.53 253.55L183.99 207.23M155.65 287.83L184.33 253.78M184.33 253.78L184.82 207.45M137.27 246.88L187.57 262.52M137.27 246.88L136.35 201.20M133.01 251.03L183.47 267.57M133.01 251.03L131.83 205.21M128.75 255.18L179.36 272.63M128.75 255.18L127.30 209.21M124.48 259.33L175.26 277.68M124.48 259.33L122.78 213.21M120.22 263.47L171.15 282.74M120.22 263.47L118.26 217.22M115.96 267.62L167.05 287.79M115.96 267.62L113.74 221.22M112.95 269.50L142.59 240.72M142.59 240.72L192.72 255.20M112.55 261.80L142.49 233.19M142.49 233.19L192.83 247.50M112.09 252.90L142.37 224.48M142.37 224.48L192.96 238.60M111.64 244.10L142.26 215.87M142.26 215.87L193.10 229.80M111.23 236.20L142.16 208.14M142.16 208.14L193.22 221.90M110.79 227.60L142.05 199.72M142.05 199.72L193.35 213.30M112.75 265.66L142.54 236.97M142.54 236.97L192.77 251.36M112.35 257.94L142.44 229.41M142.44 229.41L192.89 243.64M112.29 256.74L142.42 228.23M142.42 228.23L192.91 242.44M111.89 249.06L142.32 220.72M142.32 220.72L193.02 234.76M111.84 247.95L142.31 219.63M142.31 219.63L193.04 233.65M111.44 240.23L142.21 212.08M142.21 212.08L193.16 225.93M111.43 240.04L142.21 211.90M142.21 211.90L193.16 225.74M111.03 232.37L142.11 204.39M142.11 204.39L193.27 218.07M110.98 231.44L142.10 203.48M142.10 203.48L193.29 217.14M142.60 241.70L142.00 196.20M142.00 196.20L193.40 209.70M142.00 196.20L110.60 224.00M142.60 241.70L192.70 256.20M142.60 241.70L113.00 270.50" stroke="#cdcdcd" stroke-width="0.5" fill="none"/>
<path d="M113.00 270.50L164.20 291.30L192.70 256.20" stroke="#555" stroke-width="0.65" fill="none"/>
<path d="M192.70 256.20L193.40 209.70" stroke="#8a8a8a" stroke-width="0.55" fill="none"/>
<text transform="translate(194.38 258.40) scale(0.86 1)" font-size="6.4" text-anchor="start" fill="#000" stroke="#000" stroke-width="0.18">0.228</text>
<text transform="translate(194.57 250.70) scale(0.86 1)" font-size="6.4" text-anchor="start" fill="#000" stroke="#000" stroke-width="0.18">0.230</text>
<text transform="translate(194.78 241.80) scale(0.86 1)" font-size="6.4" text-anchor="start" fill="#000" stroke="#000" stroke-width="0.18">0.232</text>
<text transform="translate(194.99 233.00) scale(0.86 1)" font-size="6.4" text-anchor="start" fill="#000" stroke="#000" stroke-width="0.18">0.234</text>
<text transform="translate(195.18 225.10) scale(0.86 1)" font-size="6.4" text-anchor="start" fill="#000" stroke="#000" stroke-width="0.18">0.236</text>
<text transform="translate(195.39 216.50) scale(0.86 1)" font-size="6.4" text-anchor="start" fill="#000" stroke="#000" stroke-width="0.18">0.238</text>
<text transform="translate(125.38 278.81) scale(0.86 1) rotate(-31)" font-size="6.0" text-anchor="end" fill="#000" stroke="#000" stroke-width="0.18">−0.166</text>
<text transform="translate(137.36 283.68) scale(0.86 1) rotate(-31)" font-size="6.0" text-anchor="end" fill="#000" stroke="#000" stroke-width="0.18">−0.164</text>
<text transform="translate(149.14 288.46) scale(0.86 1) rotate(-31)" font-size="6.0" text-anchor="end" fill="#000" stroke="#000" stroke-width="0.18">−0.162</text>
<text transform="translate(161.94 293.66) scale(0.86 1) rotate(-31)" font-size="6.0" text-anchor="end" fill="#000" stroke="#000" stroke-width="0.18">−0.160</text>
<text transform="translate(188.57 264.92) scale(0.86 1) rotate(20)" font-size="6.2" text-anchor="start" fill="#000" stroke="#000" stroke-width="0.18">−0.204</text>
<text transform="translate(184.47 269.97) scale(0.86 1) rotate(20)" font-size="6.2" text-anchor="start" fill="#000" stroke="#000" stroke-width="0.18">−0.208</text>
<text transform="translate(180.36 275.03) scale(0.86 1) rotate(20)" font-size="6.2" text-anchor="start" fill="#000" stroke="#000" stroke-width="0.18">−0.212</text>
<text transform="translate(176.26 280.08) scale(0.86 1) rotate(20)" font-size="6.2" text-anchor="start" fill="#000" stroke="#000" stroke-width="0.18">−0.216</text>
<text transform="translate(172.15 285.14) scale(0.86 1) rotate(20)" font-size="6.2" text-anchor="start" fill="#000" stroke="#000" stroke-width="0.18">−0.220</text>
<text transform="translate(168.05 290.19) scale(0.86 1) rotate(20)" font-size="6.2" text-anchor="start" fill="#000" stroke="#000" stroke-width="0.18">−0.224</text>
<path d="M191.90 255.20h1.7M192.02 247.50h1.7M192.15 238.60h1.7M192.28 229.80h1.7M192.40 221.90h1.7M192.53 213.30h1.7" stroke="#444" stroke-width="0.5" fill="none"/>
<text x="118" y="192.0" font-size="8.7" fill="#000" stroke="#000" stroke-width="0.12">after 5000x training</text>
<rect x="137.35" y="236.00" width="5.3" height="6.0" fill="#72f5b0"/>
<rect x="141.27" y="237.06" width="5.3" height="6.19" fill="#72f5b0"/>
<rect x="145.20" y="238.12" width="5.3" height="6.38" fill="#72f5b0"/>
<rect x="149.12" y="239.18" width="5.3" height="6.57" fill="#72f5b0"/>
<rect x="153.04" y="240.24" width="5.3" height="6.76" fill="#72f5b0"/>
<rect x="156.97" y="241.29" width="5.3" height="6.95" fill="#72f5b0"/>
<rect x="160.89" y="242.35" width="5.3" height="7.140000000000001" fill="#72f5b0"/>
<rect x="164.81" y="243.41" width="5.3" height="7.33" fill="#72f5b0"/>
<rect x="168.73" y="244.47" width="5.3" height="7.52" fill="#72f5b0"/>
<rect x="172.66" y="245.53" width="5.3" height="7.71" fill="#72f5b0"/>
<rect x="176.58" y="246.59" width="5.3" height="7.9" fill="#72f5b0"/>
<rect x="180.50" y="247.65" width="5.3" height="8.09" fill="#72f5b0"/>
<rect x="184.43" y="248.71" width="5.3" height="8.280000000000001" fill="#72f5b0"/>
<rect x="188.35" y="249.76" width="5.3" height="8.47" fill="#72f5b0"/>
<rect x="129.95" y="205.60" width="5.3" height="6.8" fill="#6a00f4"/>
<rect x="134.95" y="209.00" width="5.3" height="6.8" fill="#6a00f4"/>
<rect x="133.75" y="213.60" width="5.3" height="6.8" fill="#6a00f4"/>
<rect x="137.35" y="215.60" width="5.3" height="6.8" fill="#6a00f4"/>
<rect x="142.95" y="217.60" width="5.3" height="6.8" fill="#6a00f4"/>
<rect x="139.35" y="221.60" width="5.3" height="6.8" fill="#6a00f4"/>
<rect x="144.35" y="222.20" width="5.3" height="6.8" fill="#6a00f4"/>
<rect x="137.35" y="225.60" width="5.3" height="6.8" fill="#6a00f4"/>
<rect x="143.35" y="226.20" width="5.3" height="6.8" fill="#6a00f4"/>
<rect x="154.75" y="226.20" width="5.3" height="6.8" fill="#6a00f4"/>
<rect x="148.35" y="229.00" width="5.3" height="6.8" fill="#6a00f4"/>
<rect x="153.35" y="229.60" width="5.3" height="6.8" fill="#6a00f4"/>
<rect x="138.35" y="231.00" width="5.3" height="6.8" fill="#6a00f4"/>
<rect x="144.35" y="231.60" width="5.3" height="6.8" fill="#6a00f4"/>
<rect x="148.35" y="234.60" width="5.3" height="6.8" fill="#6a00f4"/>
<rect x="154.35" y="234.60" width="5.3" height="6.8" fill="#6a00f4"/>
<rect x="150.35" y="238.60" width="5.3" height="6.8" fill="#6a00f4"/>
<rect x="144.35" y="246.60" width="5.3" height="6.8" fill="#6a00f4"/>
<rect x="155.35" y="247.60" width="5.3" height="6.8" fill="#6a00f4"/>
<rect x="160.35" y="248.60" width="5.3" height="6.8" fill="#6a00f4"/>
<rect x="153.35" y="251.60" width="5.3" height="6.8" fill="#6a00f4"/>
<rect x="159.35" y="251.60" width="5.3" height="6.8" fill="#6a00f4"/>
<rect x="166.35" y="251.60" width="5.3" height="6.8" fill="#6a00f4"/>
<rect x="148.35" y="253.60" width="5.3" height="6.8" fill="#6a00f4"/>
<rect x="156.35" y="254.60" width="5.3" height="6.8" fill="#6a00f4"/>
<rect x="164.35" y="255.60" width="5.3" height="6.8" fill="#6a00f4"/>
<rect x="152.35" y="256.60" width="5.3" height="6.8" fill="#6a00f4"/>
<rect x="160.35" y="258.60" width="5.3" height="6.8" fill="#6a00f4"/>
<rect x="171.35" y="259.60" width="5.3" height="6.8" fill="#6a00f4"/>
<rect x="167.35" y="261.60" width="5.3" height="6.8" fill="#6a00f4"/>
<rect x="175.35" y="262.60" width="5.3" height="6.8" fill="#6a00f4"/>
<text x="140.00" y="240.65" font-size="4.4" font-weight="bold" text-anchor="middle" fill="#1d4a33">1</text>
<text x="143.92" y="241.80" font-size="4.4" font-weight="bold" text-anchor="middle" fill="#1d4a33">1</text>
<text x="147.85" y="242.96" font-size="4.4" font-weight="bold" text-anchor="middle" fill="#1d4a33">1</text>
<text x="151.77" y="244.11" font-size="4.4" font-weight="bold" text-anchor="middle" fill="#1d4a33">1</text>
<text x="155.69" y="245.27" font-size="4.4" font-weight="bold" text-anchor="middle" fill="#1d4a33">1</text>
<text x="159.62" y="246.42" font-size="4.4" font-weight="bold" text-anchor="middle" fill="#1d4a33">1</text>
<text x="163.54" y="247.57" font-size="4.4" font-weight="bold" text-anchor="middle" fill="#1d4a33">1</text>
<text x="167.46" y="248.73" font-size="4.4" font-weight="bold" text-anchor="middle" fill="#1d4a33">1</text>
<text x="171.38" y="249.88" font-size="4.4" font-weight="bold" text-anchor="middle" fill="#1d4a33">1</text>
<text x="175.31" y="251.03" font-size="4.4" font-weight="bold" text-anchor="middle" fill="#1d4a33">1</text>
<text x="179.23" y="252.19" font-size="4.4" font-weight="bold" text-anchor="middle" fill="#1d4a33">1</text>
<text x="183.15" y="253.34" font-size="4.4" font-weight="bold" text-anchor="middle" fill="#1d4a33">1</text>
<text x="187.08" y="254.50" font-size="4.4" font-weight="bold" text-anchor="middle" fill="#1d4a33">1</text>
<text x="191.00" y="255.65" font-size="4.4" font-weight="bold" text-anchor="middle" fill="#1d4a33">1</text>
<text x="132.60" y="210.65" font-size="4.4" font-weight="bold" text-anchor="middle" fill="#2b0878">0</text>
<text x="137.60" y="214.05" font-size="4.4" font-weight="bold" text-anchor="middle" fill="#2b0878">0</text>
<text x="136.40" y="218.65" font-size="4.4" font-weight="bold" text-anchor="middle" fill="#2b0878">0</text>
<text x="140.00" y="220.65" font-size="4.4" font-weight="bold" text-anchor="middle" fill="#2b0878">0</text>
<text x="145.60" y="222.65" font-size="4.4" font-weight="bold" text-anchor="middle" fill="#2b0878">0</text>
<text x="142.00" y="226.65" font-size="4.4" font-weight="bold" text-anchor="middle" fill="#2b0878">0</text>
<text x="147.00" y="227.25" font-size="4.4" font-weight="bold" text-anchor="middle" fill="#2b0878">0</text>
<text x="140.00" y="230.65" font-size="4.4" font-weight="bold" text-anchor="middle" fill="#2b0878">0</text>
<text x="146.00" y="231.25" font-size="4.4" font-weight="bold" text-anchor="middle" fill="#2b0878">0</text>
<text x="157.40" y="231.25" font-size="4.4" font-weight="bold" text-anchor="middle" fill="#2b0878">0</text>
<text x="151.00" y="234.05" font-size="4.4" font-weight="bold" text-anchor="middle" fill="#2b0878">0</text>
<text x="156.00" y="234.65" font-size="4.4" font-weight="bold" text-anchor="middle" fill="#2b0878">0</text>
<text x="141.00" y="236.05" font-size="4.4" font-weight="bold" text-anchor="middle" fill="#2b0878">0</text>
<text x="147.00" y="236.65" font-size="4.4" font-weight="bold" text-anchor="middle" fill="#2b0878">0</text>
<text x="151.00" y="239.65" font-size="4.4" font-weight="bold" text-anchor="middle" fill="#2b0878">0</text>
<text x="157.00" y="239.65" font-size="4.4" font-weight="bold" text-anchor="middle" fill="#2b0878">0</text>
<text x="153.00" y="243.65" font-size="4.4" font-weight="bold" text-anchor="middle" fill="#2b0878">0</text>
<text x="147.00" y="251.65" font-size="4.4" font-weight="bold" text-anchor="middle" fill="#2b0878">0</text>
<text x="158.00" y="252.65" font-size="4.4" font-weight="bold" text-anchor="middle" fill="#2b0878">0</text>
<text x="163.00" y="253.65" font-size="4.4" font-weight="bold" text-anchor="middle" fill="#2b0878">0</text>
<text x="156.00" y="256.65" font-size="4.4" font-weight="bold" text-anchor="middle" fill="#2b0878">0</text>
<text x="162.00" y="256.65" font-size="4.4" font-weight="bold" text-anchor="middle" fill="#2b0878">0</text>
<text x="169.00" y="256.65" font-size="4.4" font-weight="bold" text-anchor="middle" fill="#2b0878">0</text>
<text x="151.00" y="258.65" font-size="4.4" font-weight="bold" text-anchor="middle" fill="#2b0878">0</text>
<text x="159.00" y="259.65" font-size="4.4" font-weight="bold" text-anchor="middle" fill="#2b0878">0</text>
<text x="167.00" y="260.65" font-size="4.4" font-weight="bold" text-anchor="middle" fill="#2b0878">0</text>
<text x="155.00" y="261.65" font-size="4.4" font-weight="bold" text-anchor="middle" fill="#2b0878">0</text>
<text x="163.00" y="263.65" font-size="4.4" font-weight="bold" text-anchor="middle" fill="#2b0878">0</text>
<text x="174.00" y="264.65" font-size="4.4" font-weight="bold" text-anchor="middle" fill="#2b0878">0</text>
<text x="170.00" y="266.65" font-size="4.4" font-weight="bold" text-anchor="middle" fill="#2b0878">0</text>
<text x="178.00" y="267.65" font-size="4.4" font-weight="bold" text-anchor="middle" fill="#2b0878">0</text>
<polygon points="225.00,270.60 276.20,291.40 304.70,256.30 254.60,241.80" fill="#f5f5f5"/>
<polygon points="225.00,270.60 254.60,241.80 254.00,196.30 222.60,224.10" fill="#f5f5f5"/>
<polygon points="254.60,241.80 304.70,256.30 305.40,209.80 254.00,196.30" fill="#f5f5f5"/>
<path d="M226.24 269.39L277.40 289.93M226.24 269.39L223.92 222.93M232.40 263.40L283.32 282.62M232.40 263.40L230.45 217.15M238.56 257.41L289.25 275.32M238.56 257.41L236.98 211.37M244.71 251.42L295.18 268.02M244.71 251.42L243.51 205.59M250.87 245.43L301.11 260.72M250.87 245.43L250.04 199.80M224.67 264.23L254.52 235.57M254.52 235.57L304.80 249.93M224.64 263.53L254.51 234.88M254.51 234.88L304.81 249.23M224.26 256.23L254.41 227.74M254.41 227.74L304.92 241.93M224.22 255.44L254.40 226.97M254.40 226.97L304.93 241.14M223.84 248.14L254.31 219.82M254.31 219.82L305.04 233.84M223.77 246.84L254.29 218.55M254.29 218.55L305.06 232.54M223.40 239.54L254.20 211.41M254.20 211.41L305.17 225.24M223.39 239.45L254.20 211.31M254.20 211.31L305.17 225.15M223.02 232.14L254.10 204.17M254.10 204.17L305.28 217.84M222.64 224.84L254.01 197.03M254.01 197.03L305.39 210.54" stroke="#e3e3e3" stroke-width="0.5" fill="none"/>
<path d="M228.58 272.06L258.11 242.81M258.11 242.81L257.60 197.25M240.36 276.84L269.63 246.15M269.63 246.15L269.42 200.35M250.60 281.00L279.65 249.05M279.65 249.05L279.70 203.05M261.35 285.37L290.17 252.09M290.17 252.09L290.49 205.88M272.10 289.74L300.69 255.14M300.69 255.14L301.29 208.72M247.79 248.42L298.14 264.37M247.79 248.42L246.78 202.69M241.64 254.41L292.22 271.67M241.64 254.41L240.25 208.48M235.48 260.40L286.29 278.97M235.48 260.40L233.72 214.26M229.32 266.40L280.36 286.28M229.32 266.40L227.18 220.04M222.83 228.50L254.06 200.61M254.06 200.61L305.33 214.20M223.20 235.80L254.15 207.75M254.15 207.75L305.22 221.50M223.59 243.20L254.25 214.99M254.25 214.99L305.11 228.90M224.03 251.80L254.36 223.40M254.36 223.40L304.98 237.50M224.45 259.90L254.46 231.33M254.46 231.33L304.86 245.60M224.86 267.90L254.57 239.16M254.57 239.16L304.74 253.60M254.60 241.80L254.00 196.30M254.00 196.30L305.40 209.80M254.00 196.30L222.60 224.10M254.60 241.80L304.70 256.30M254.60 241.80L225.00 270.60" stroke="#cdcdcd" stroke-width="0.5" fill="none"/>
<path d="M225.00 270.60L276.20 291.40L304.70 256.30" stroke="#555" stroke-width="0.65" fill="none"/>
<path d="M304.70 256.30L305.40 209.80" stroke="#8a8a8a" stroke-width="0.55" fill="none"/>
<text transform="translate(307.07 217.40) scale(0.86 1)" font-size="6.4" text-anchor="start" fill="#000" stroke="#000" stroke-width="0.18">0.0000</text>
<text transform="translate(306.90 224.70) scale(0.86 1)" font-size="6.4" text-anchor="start" fill="#000" stroke="#000" stroke-width="0.18">0.0005</text>
<text transform="translate(306.72 232.10) scale(0.86 1)" font-size="6.4" text-anchor="start" fill="#000" stroke="#000" stroke-width="0.18">0.0010</text>
<text transform="translate(306.51 240.70) scale(0.86 1)" font-size="6.4" text-anchor="start" fill="#000" stroke="#000" stroke-width="0.18">0.0015</text>
<text transform="translate(306.32 248.80) scale(0.86 1)" font-size="6.4" text-anchor="start" fill="#000" stroke="#000" stroke-width="0.18">0.0020</text>
<text transform="translate(306.12 256.80) scale(0.86 1)" font-size="6.4" text-anchor="start" fill="#000" stroke="#000" stroke-width="0.18">0.0025</text>
<text transform="translate(228.88 275.46) scale(0.86 1) rotate(-31)" font-size="6.0" text-anchor="end" fill="#000" stroke="#000" stroke-width="0.18">−0.128</text>
<text transform="translate(240.66 280.24) scale(0.86 1) rotate(-31)" font-size="6.0" text-anchor="end" fill="#000" stroke="#000" stroke-width="0.18">−0.127</text>
<text transform="translate(250.90 284.40) scale(0.86 1) rotate(-31)" font-size="6.0" text-anchor="end" fill="#000" stroke="#000" stroke-width="0.18">−0.126</text>
<text transform="translate(261.65 288.77) scale(0.86 1) rotate(-31)" font-size="6.0" text-anchor="end" fill="#000" stroke="#000" stroke-width="0.18">−0.125</text>
<text transform="translate(272.40 293.14) scale(0.86 1) rotate(-31)" font-size="6.0" text-anchor="end" fill="#000" stroke="#000" stroke-width="0.18">−0.124</text>
<text transform="translate(299.14 266.77) scale(0.86 1) rotate(20)" font-size="6.2" text-anchor="start" fill="#000" stroke="#000" stroke-width="0.18">−0.1665</text>
<text transform="translate(293.22 274.07) scale(0.86 1) rotate(20)" font-size="6.2" text-anchor="start" fill="#000" stroke="#000" stroke-width="0.18">−0.1675</text>
<text transform="translate(287.29 281.37) scale(0.86 1) rotate(20)" font-size="6.2" text-anchor="start" fill="#000" stroke="#000" stroke-width="0.18">−0.1685</text>
<text transform="translate(281.36 288.68) scale(0.86 1) rotate(20)" font-size="6.2" text-anchor="start" fill="#000" stroke="#000" stroke-width="0.18">−0.1695</text>
<path d="M304.52 214.20h1.7M304.41 221.50h1.7M304.30 228.90h1.7M304.17 237.50h1.7M304.05 245.60h1.7M303.93 253.60h1.7" stroke="#444" stroke-width="0.5" fill="none"/>
<text x="228" y="192.0" font-size="8.7" fill="#000" stroke="#000" stroke-width="0.12">after 10,000x training</text>
<rect x="258.70" y="240.90" width="4.6" height="6.2" fill="#72f5b0"/>
<rect x="263.70" y="240.50" width="4.6" height="6.2" fill="#72f5b0"/>
<rect x="268.70" y="239.90" width="4.6" height="6.2" fill="#72f5b0"/>
<rect x="274.70" y="241.90" width="4.6" height="6.2" fill="#72f5b0"/>
<rect x="260.70" y="243.30" width="4.6" height="6.2" fill="#72f5b0"/>
<rect x="223.10" y="219.50" width="4.6" height="6.2" fill="#6a00f4"/>
<rect x="231.70" y="223.90" width="4.6" height="6.2" fill="#6a00f4"/>
<rect x="233.30" y="226.90" width="4.6" height="6.2" fill="#6a00f4"/>
<rect x="237.70" y="226.50" width="4.6" height="6.2" fill="#6a00f4"/>
<rect x="242.10" y="226.50" width="4.6" height="6.2" fill="#6a00f4"/>
<rect x="238.70" y="229.90" width="4.6" height="6.2" fill="#6a00f4"/>
<rect x="244.70" y="229.30" width="4.6" height="6.2" fill="#6a00f4"/>
<rect x="248.70" y="229.90" width="4.6" height="6.2" fill="#6a00f4"/>
<rect x="254.70" y="230.50" width="4.6" height="6.2" fill="#6a00f4"/>
<rect x="243.70" y="232.90" width="4.6" height="6.2" fill="#6a00f4"/>
<rect x="249.70" y="233.90" width="4.6" height="6.2" fill="#6a00f4"/>
<rect x="255.70" y="234.90" width="4.6" height="6.2" fill="#6a00f4"/>
<rect x="260.70" y="233.90" width="4.6" height="6.2" fill="#6a00f4"/>
<rect x="268.70" y="234.50" width="4.6" height="6.2" fill="#6a00f4"/>
<rect x="264.70" y="234.90" width="4.6" height="6.2" fill="#6a00f4"/>
<rect x="257.70" y="236.90" width="4.6" height="6.2" fill="#6a00f4"/>
<rect x="265.70" y="245.90" width="4.6" height="6.2" fill="#6a00f4"/>
<rect x="268.70" y="247.90" width="4.6" height="6.2" fill="#6a00f4"/>
<rect x="271.70" y="247.90" width="4.6" height="6.2" fill="#6a00f4"/>
<rect x="275.70" y="246.90" width="4.6" height="6.2" fill="#6a00f4"/>
<rect x="279.70" y="247.90" width="4.6" height="6.2" fill="#6a00f4"/>
<rect x="283.70" y="250.90" width="4.6" height="6.2" fill="#6a00f4"/>
<rect x="277.70" y="249.90" width="4.6" height="6.2" fill="#6a00f4"/>
<rect x="301.20" y="251.40" width="4" height="6.2" fill="#6a00f4"/>
<text x="261.00" y="245.65" font-size="4.4" font-weight="bold" text-anchor="middle" fill="#1d4a33">1</text>
<text x="266.00" y="245.25" font-size="4.4" font-weight="bold" text-anchor="middle" fill="#1d4a33">1</text>
<text x="271.00" y="244.65" font-size="4.4" font-weight="bold" text-anchor="middle" fill="#1d4a33">1</text>
<text x="277.00" y="246.65" font-size="4.4" font-weight="bold" text-anchor="middle" fill="#1d4a33">1</text>
<text x="263.00" y="248.05" font-size="4.4" font-weight="bold" text-anchor="middle" fill="#1d4a33">1</text>
<text x="225.40" y="224.25" font-size="4.4" font-weight="bold" text-anchor="middle" fill="#2b0878">0</text>
<text x="234.00" y="228.65" font-size="4.4" font-weight="bold" text-anchor="middle" fill="#2b0878">0</text>
<text x="235.60" y="231.65" font-size="4.4" font-weight="bold" text-anchor="middle" fill="#2b0878">0</text>
<text x="240.00" y="231.25" font-size="4.4" font-weight="bold" text-anchor="middle" fill="#2b0878">0</text>
<text x="244.40" y="231.25" font-size="4.4" font-weight="bold" text-anchor="middle" fill="#2b0878">0</text>
<text x="241.00" y="234.65" font-size="4.4" font-weight="bold" text-anchor="middle" fill="#2b0878">0</text>
<text x="247.00" y="234.05" font-size="4.4" font-weight="bold" text-anchor="middle" fill="#2b0878">0</text>
<text x="251.00" y="234.65" font-size="4.4" font-weight="bold" text-anchor="middle" fill="#2b0878">0</text>
<text x="257.00" y="235.25" font-size="4.4" font-weight="bold" text-anchor="middle" fill="#2b0878">0</text>
<text x="246.00" y="237.65" font-size="4.4" font-weight="bold" text-anchor="middle" fill="#2b0878">0</text>
<text x="252.00" y="238.65" font-size="4.4" font-weight="bold" text-anchor="middle" fill="#2b0878">0</text>
<text x="258.00" y="239.65" font-size="4.4" font-weight="bold" text-anchor="middle" fill="#2b0878">0</text>
<text x="263.00" y="238.65" font-size="4.4" font-weight="bold" text-anchor="middle" fill="#2b0878">0</text>
<text x="271.00" y="239.25" font-size="4.4" font-weight="bold" text-anchor="middle" fill="#2b0878">0</text>
<text x="267.00" y="239.65" font-size="4.4" font-weight="bold" text-anchor="middle" fill="#2b0878">0</text>
<text x="260.00" y="241.65" font-size="4.4" font-weight="bold" text-anchor="middle" fill="#2b0878">0</text>
<text x="268.00" y="250.65" font-size="4.4" font-weight="bold" text-anchor="middle" fill="#2b0878">0</text>
<text x="271.00" y="252.65" font-size="4.4" font-weight="bold" text-anchor="middle" fill="#2b0878">0</text>
<text x="274.00" y="252.65" font-size="4.4" font-weight="bold" text-anchor="middle" fill="#2b0878">0</text>
<text x="278.00" y="251.65" font-size="4.4" font-weight="bold" text-anchor="middle" fill="#2b0878">0</text>
<text x="282.00" y="252.65" font-size="4.4" font-weight="bold" text-anchor="middle" fill="#2b0878">0</text>
<text x="286.00" y="255.65" font-size="4.4" font-weight="bold" text-anchor="middle" fill="#2b0878">0</text>
<text x="280.00" y="254.65" font-size="4.4" font-weight="bold" text-anchor="middle" fill="#2b0878">0</text>
<text x="303.20" y="256.15" font-size="4.4" font-weight="bold" text-anchor="middle" fill="#2b0878">0</text>
<polygon points="338.30,271.80 389.50,292.60 418.00,257.50 367.90,243.00" fill="#f5f5f5"/>
<polygon points="338.30,271.80 367.90,243.00 367.30,197.50 335.90,225.30" fill="#f5f5f5"/>
<polygon points="367.90,243.00 418.00,257.50 418.70,211.00 367.30,197.50" fill="#f5f5f5"/>
<path d="" stroke="#e3e3e3" stroke-width="0.5" fill="none"/>
<path d="M340.35 272.63L369.90 243.58M369.90 243.58L369.36 198.04M351.10 277.00L380.42 246.62M380.42 246.62L380.15 200.88M360.83 280.95L389.94 249.38M389.94 249.38L389.92 203.44M372.09 285.53L400.97 252.57M400.97 252.57L401.22 206.41M382.84 289.90L411.49 255.62M411.49 255.62L412.02 209.25M362.42 248.33L412.73 263.99M362.42 248.33L361.49 202.64M357.24 253.37L407.74 270.14M357.24 253.37L356.00 207.51M352.09 258.38L402.78 276.24M352.09 258.38L350.53 212.35M346.88 263.45L397.76 282.42M346.88 263.45L345.01 217.24M341.76 268.43L392.83 288.49M341.76 268.43L339.57 222.05M336.19 230.90L367.37 202.98M367.37 202.98L418.62 216.60M336.50 236.90L367.45 208.85M367.45 208.85L418.53 222.60M336.80 242.80L367.53 214.62M367.53 214.62L418.44 228.50M337.15 249.50L367.61 221.18M367.61 221.18L418.34 235.20M337.48 255.90L367.69 227.44M367.69 227.44L418.24 241.60M337.83 262.70L367.78 234.10M367.78 234.10L418.14 248.40M338.15 268.90L367.86 240.16M367.86 240.16L418.04 254.60M367.90 243.00L367.30 197.50M367.30 197.50L418.70 211.00M367.30 197.50L335.90 225.30M367.90 243.00L418.00 257.50M367.90 243.00L338.30 271.80" stroke="#cdcdcd" stroke-width="0.5" fill="none"/>
<path d="M338.30 271.80L389.50 292.60L418.00 257.50" stroke="#555" stroke-width="0.65" fill="none"/>
<path d="M418.00 257.50L418.70 211.00" stroke="#8a8a8a" stroke-width="0.55" fill="none"/>
<text transform="translate(421.94 219.80) scale(0.86 1)" font-size="6.4" text-anchor="start" fill="#000" stroke="#000" stroke-width="0.18">0.254</text>
<text transform="translate(421.80 225.80) scale(0.86 1)" font-size="6.4" text-anchor="start" fill="#000" stroke="#000" stroke-width="0.18">0.252</text>
<text transform="translate(421.66 231.70) scale(0.86 1)" font-size="6.4" text-anchor="start" fill="#000" stroke="#000" stroke-width="0.18">0.250</text>
<text transform="translate(421.50 238.40) scale(0.86 1)" font-size="6.4" text-anchor="start" fill="#000" stroke="#000" stroke-width="0.18">0.248</text>
<text transform="translate(421.34 244.80) scale(0.86 1)" font-size="6.4" text-anchor="start" fill="#000" stroke="#000" stroke-width="0.18">0.246</text>
<text transform="translate(421.18 251.60) scale(0.86 1)" font-size="6.4" text-anchor="start" fill="#000" stroke="#000" stroke-width="0.18">0.244</text>
<text transform="translate(421.03 257.80) scale(0.86 1)" font-size="6.4" text-anchor="start" fill="#000" stroke="#000" stroke-width="0.18">0.242</text>
<text transform="translate(340.65 276.03) scale(0.86 1) rotate(-31)" font-size="6.0" text-anchor="end" fill="#000" stroke="#000" stroke-width="0.18">−0.088</text>
<text transform="translate(351.40 280.40) scale(0.86 1) rotate(-31)" font-size="6.0" text-anchor="end" fill="#000" stroke="#000" stroke-width="0.18">−0.086</text>
<text transform="translate(361.13 284.35) scale(0.86 1) rotate(-31)" font-size="6.0" text-anchor="end" fill="#000" stroke="#000" stroke-width="0.18">−0.084</text>
<text transform="translate(372.39 288.93) scale(0.86 1) rotate(-31)" font-size="6.0" text-anchor="end" fill="#000" stroke="#000" stroke-width="0.18">−0.082</text>
<text transform="translate(383.14 293.30) scale(0.86 1) rotate(-31)" font-size="6.0" text-anchor="end" fill="#000" stroke="#000" stroke-width="0.18">−0.080</text>
<text transform="translate(414.93 266.39) scale(0.86 1) rotate(20)" font-size="6.2" text-anchor="start" fill="#000" stroke="#000" stroke-width="0.18">−0.0605</text>
<text transform="translate(409.94 272.54) scale(0.86 1) rotate(20)" font-size="6.2" text-anchor="start" fill="#000" stroke="#000" stroke-width="0.18">−0.0610</text>
<text transform="translate(404.98 278.64) scale(0.86 1) rotate(20)" font-size="6.2" text-anchor="start" fill="#000" stroke="#000" stroke-width="0.18">−0.0615</text>
<text transform="translate(399.96 284.82) scale(0.86 1) rotate(20)" font-size="6.2" text-anchor="start" fill="#000" stroke="#000" stroke-width="0.18">−0.0620</text>
<text transform="translate(395.03 290.89) scale(0.86 1) rotate(20)" font-size="6.2" text-anchor="start" fill="#000" stroke="#000" stroke-width="0.18">−0.0625</text>
<path d="M417.80 216.60h1.7M417.71 222.60h1.7M417.62 228.50h1.7M417.52 235.20h1.7M417.43 241.60h1.7M417.32 248.40h1.7M417.23 254.60h1.7" stroke="#444" stroke-width="0.5" fill="none"/>
<text x="339" y="192.0" font-size="8.7" fill="#000" stroke="#000" stroke-width="0.12">after 20,000x training</text>
<rect x="359.35" y="212.60" width="5.3" height="6.8" fill="#72f5b0"/>
<rect x="364.35" y="224.60" width="5.3" height="6.8" fill="#72f5b0"/>
<rect x="369.35" y="219.60" width="5.3" height="6.8" fill="#72f5b0"/>
<rect x="370.35" y="230.20" width="5.3" height="6.8" fill="#72f5b0"/>
<rect x="402.35" y="240.60" width="5.3" height="6.8" fill="#72f5b0"/>
<rect x="389.35" y="230.60" width="5.3" height="6.8" fill="#72f5b0"/>
<rect x="381.35" y="247.60" width="5.3" height="6.8" fill="#72f5b0"/>
<rect x="358.35" y="200.60" width="5.3" height="6.8" fill="#6a00f4"/>
<rect x="363.35" y="203.60" width="5.3" height="6.8" fill="#6a00f4"/>
<rect x="362.95" y="208.20" width="5.3" height="6.8" fill="#6a00f4"/>
<rect x="373.35" y="208.60" width="5.3" height="6.8" fill="#6a00f4"/>
<rect x="366.35" y="212.20" width="5.3" height="6.8" fill="#6a00f4"/>
<rect x="370.35" y="212.60" width="5.3" height="6.8" fill="#6a00f4"/>
<rect x="377.35" y="212.60" width="5.3" height="6.8" fill="#6a00f4"/>
<rect x="364.35" y="215.60" width="5.3" height="6.8" fill="#6a00f4"/>
<rect x="375.35" y="216.60" width="5.3" height="6.8" fill="#6a00f4"/>
<rect x="370.35" y="219.60" width="5.3" height="6.8" fill="#6a00f4"/>
<rect x="376.35" y="221.60" width="5.3" height="6.8" fill="#6a00f4"/>
<rect x="381.35" y="221.60" width="5.3" height="6.8" fill="#6a00f4"/>
<rect x="367.35" y="224.60" width="5.3" height="6.8" fill="#6a00f4"/>
<rect x="386.35" y="225.20" width="5.3" height="6.8" fill="#6a00f4"/>
<rect x="375.35" y="225.60" width="5.3" height="6.8" fill="#6a00f4"/>
<rect x="366.35" y="229.60" width="5.3" height="6.8" fill="#6a00f4"/>
<rect x="375.35" y="229.60" width="5.3" height="6.8" fill="#6a00f4"/>
<rect x="381.35" y="228.60" width="5.3" height="6.8" fill="#6a00f4"/>
<rect x="387.35" y="231.60" width="5.3" height="6.8" fill="#6a00f4"/>
<rect x="371.35" y="234.60" width="5.3" height="6.8" fill="#6a00f4"/>
<rect x="378.35" y="234.60" width="5.3" height="6.8" fill="#6a00f4"/>
<rect x="384.35" y="234.60" width="5.3" height="6.8" fill="#6a00f4"/>
<rect x="390.35" y="235.60" width="5.3" height="6.8" fill="#6a00f4"/>
<rect x="396.35" y="237.60" width="5.3" height="6.8" fill="#6a00f4"/>
<rect x="393.35" y="240.60" width="5.3" height="6.8" fill="#6a00f4"/>
<rect x="377.35" y="239.60" width="5.3" height="6.8" fill="#6a00f4"/>
<rect x="383.35" y="240.20" width="5.3" height="6.8" fill="#6a00f4"/>
<rect x="387.35" y="240.60" width="5.3" height="6.8" fill="#6a00f4"/>
<rect x="375.35" y="242.60" width="5.3" height="6.8" fill="#6a00f4"/>
<rect x="381.35" y="244.60" width="5.3" height="6.8" fill="#6a00f4"/>
<rect x="401.35" y="243.60" width="5.3" height="6.8" fill="#6a00f4"/>
<rect x="389.35" y="246.60" width="5.3" height="6.8" fill="#6a00f4"/>
<rect x="391.35" y="251.60" width="5.3" height="6.8" fill="#6a00f4"/>
<rect x="388.35" y="253.60" width="5.3" height="6.8" fill="#6a00f4"/>
<rect x="393.35" y="257.60" width="5.3" height="6.8" fill="#6a00f4"/>
<rect x="371.35" y="255.60" width="5.3" height="6.8" fill="#6a00f4"/>
<rect x="383.75" y="281.00" width="5.3" height="6.8" fill="#6a00f4"/>
<rect x="379.85" y="237.10" width="5.3" height="6.8" fill="#6a00f4"/>
<rect x="373.85" y="238.60" width="5.3" height="6.8" fill="#6a00f4"/>
<rect x="385.85" y="243.10" width="5.3" height="6.8" fill="#6a00f4"/>
<rect x="399.35" y="256.60" width="5.3" height="6.8" fill="#72f5b0"/>
<rect x="393.35" y="263.60" width="5.3" height="6.8" fill="#72f5b0"/>
<rect x="400.95" y="268.90" width="5.3" height="6.8" fill="#72f5b0"/>
<text x="362.00" y="217.65" font-size="4.4" font-weight="bold" text-anchor="middle" fill="#1d4a33">1</text>
<text x="367.00" y="229.65" font-size="4.4" font-weight="bold" text-anchor="middle" fill="#1d4a33">1</text>
<text x="372.00" y="224.65" font-size="4.4" font-weight="bold" text-anchor="middle" fill="#1d4a33">1</text>
<text x="373.00" y="235.25" font-size="4.4" font-weight="bold" text-anchor="middle" fill="#1d4a33">1</text>
<text x="405.00" y="245.65" font-size="4.4" font-weight="bold" text-anchor="middle" fill="#1d4a33">1</text>
<text x="392.00" y="235.65" font-size="4.4" font-weight="bold" text-anchor="middle" fill="#1d4a33">1</text>
<text x="384.00" y="252.65" font-size="4.4" font-weight="bold" text-anchor="middle" fill="#1d4a33">1</text>
<text x="361.00" y="205.65" font-size="4.4" font-weight="bold" text-anchor="middle" fill="#2b0878">0</text>
<text x="366.00" y="208.65" font-size="4.4" font-weight="bold" text-anchor="middle" fill="#2b0878">0</text>
<text x="365.60" y="213.25" font-size="4.4" font-weight="bold" text-anchor="middle" fill="#2b0878">0</text>
<text x="376.00" y="213.65" font-size="4.4" font-weight="bold" text-anchor="middle" fill="#2b0878">0</text>
<text x="369.00" y="217.25" font-size="4.4" font-weight="bold" text-anchor="middle" fill="#2b0878">0</text>
<text x="373.00" y="217.65" font-size="4.4" font-weight="bold" text-anchor="middle" fill="#2b0878">0</text>
<text x="380.00" y="217.65" font-size="4.4" font-weight="bold" text-anchor="middle" fill="#2b0878">0</text>
<text x="367.00" y="220.65" font-size="4.4" font-weight="bold" text-anchor="middle" fill="#2b0878">0</text>
<text x="378.00" y="221.65" font-size="4.4" font-weight="bold" text-anchor="middle" fill="#2b0878">0</text>
<text x="373.00" y="224.65" font-size="4.4" font-weight="bold" text-anchor="middle" fill="#2b0878">0</text>
<text x="379.00" y="226.65" font-size="4.4" font-weight="bold" text-anchor="middle" fill="#2b0878">0</text>
<text x="384.00" y="226.65" font-size="4.4" font-weight="bold" text-anchor="middle" fill="#2b0878">0</text>
<text x="370.00" y="229.65" font-size="4.4" font-weight="bold" text-anchor="middle" fill="#2b0878">0</text>
<text x="389.00" y="230.25" font-size="4.4" font-weight="bold" text-anchor="middle" fill="#2b0878">0</text>
<text x="378.00" y="230.65" font-size="4.4" font-weight="bold" text-anchor="middle" fill="#2b0878">0</text>
<text x="369.00" y="234.65" font-size="4.4" font-weight="bold" text-anchor="middle" fill="#2b0878">0</text>
<text x="378.00" y="234.65" font-size="4.4" font-weight="bold" text-anchor="middle" fill="#2b0878">0</text>
<text x="384.00" y="233.65" font-size="4.4" font-weight="bold" text-anchor="middle" fill="#2b0878">0</text>
<text x="390.00" y="236.65" font-size="4.4" font-weight="bold" text-anchor="middle" fill="#2b0878">0</text>
<text x="374.00" y="239.65" font-size="4.4" font-weight="bold" text-anchor="middle" fill="#2b0878">0</text>
<text x="381.00" y="239.65" font-size="4.4" font-weight="bold" text-anchor="middle" fill="#2b0878">0</text>
<text x="387.00" y="239.65" font-size="4.4" font-weight="bold" text-anchor="middle" fill="#2b0878">0</text>
<text x="393.00" y="240.65" font-size="4.4" font-weight="bold" text-anchor="middle" fill="#2b0878">0</text>
<text x="399.00" y="242.65" font-size="4.4" font-weight="bold" text-anchor="middle" fill="#2b0878">0</text>
<text x="396.00" y="245.65" font-size="4.4" font-weight="bold" text-anchor="middle" fill="#2b0878">0</text>
<text x="380.00" y="244.65" font-size="4.4" font-weight="bold" text-anchor="middle" fill="#2b0878">0</text>
<text x="386.00" y="245.25" font-size="4.4" font-weight="bold" text-anchor="middle" fill="#2b0878">0</text>
<text x="390.00" y="245.65" font-size="4.4" font-weight="bold" text-anchor="middle" fill="#2b0878">0</text>
<text x="378.00" y="247.65" font-size="4.4" font-weight="bold" text-anchor="middle" fill="#2b0878">0</text>
<text x="384.00" y="249.65" font-size="4.4" font-weight="bold" text-anchor="middle" fill="#2b0878">0</text>
<text x="404.00" y="248.65" font-size="4.4" font-weight="bold" text-anchor="middle" fill="#2b0878">0</text>
<text x="392.00" y="251.65" font-size="4.4" font-weight="bold" text-anchor="middle" fill="#2b0878">0</text>
<text x="394.00" y="256.65" font-size="4.4" font-weight="bold" text-anchor="middle" fill="#2b0878">0</text>
<text x="391.00" y="258.65" font-size="4.4" font-weight="bold" text-anchor="middle" fill="#2b0878">0</text>
<text x="396.00" y="262.65" font-size="4.4" font-weight="bold" text-anchor="middle" fill="#2b0878">0</text>
<text x="374.00" y="260.65" font-size="4.4" font-weight="bold" text-anchor="middle" fill="#2b0878">0</text>
<text x="386.40" y="286.05" font-size="4.4" font-weight="bold" text-anchor="middle" fill="#2b0878">0</text>
<text x="382.50" y="242.15" font-size="4.4" font-weight="bold" text-anchor="middle" fill="#2b0878">0</text>
<text x="376.50" y="243.65" font-size="4.4" font-weight="bold" text-anchor="middle" fill="#2b0878">0</text>
<text x="388.50" y="248.15" font-size="4.4" font-weight="bold" text-anchor="middle" fill="#2b0878">0</text>
<text x="402.00" y="261.65" font-size="4.4" font-weight="bold" text-anchor="middle" fill="#1d4a33">1</text>
<text x="396.00" y="268.65" font-size="4.4" font-weight="bold" text-anchor="middle" fill="#1d4a33">1</text>
<text x="403.60" y="273.95" font-size="4.4" font-weight="bold" text-anchor="middle" fill="#1d4a33">1</text>
<polygon points="451.90,270.50 503.10,291.30 531.60,256.20 483.90,241.70" fill="#f5f5f5"/>
<polygon points="451.90,270.50 483.90,241.70 483.30,196.20 449.50,224.00" fill="#f5f5f5"/>
<polygon points="483.90,241.70 531.60,256.20 532.30,209.70 483.30,196.20" fill="#f5f5f5"/>
<path d="" stroke="#e3e3e3" stroke-width="0.5" fill="none"/>
<path d="M453.95 271.33L485.81 242.28M485.81 242.28L485.26 196.74M464.70 275.70L495.82 245.32M495.82 245.32L495.55 199.57M474.43 279.65L504.89 248.08M504.89 248.08L504.86 202.14M485.69 284.23L515.38 251.27M515.38 251.27L515.64 205.11M496.44 288.60L525.40 254.31M525.40 254.31L525.93 207.94M478.14 246.88L526.47 262.52M478.14 246.88L477.22 201.20M472.64 251.84L521.57 268.56M472.64 251.84L471.40 205.99M467.13 256.79L516.67 274.59M467.13 256.79L465.59 210.77M461.63 261.74L511.76 280.63M461.63 261.74L459.78 215.55M456.12 266.70L506.86 286.67M456.12 266.70L453.96 220.33M449.74 228.70L483.36 200.80M483.36 200.80L532.23 214.40M450.11 235.90L483.45 207.84M483.45 207.84L532.12 221.60M450.50 243.40L483.55 215.18M483.55 215.18L532.01 229.10M450.96 252.20L483.66 223.79M483.66 223.79L531.88 237.90M451.31 259.00L483.75 230.45M483.75 230.45L531.77 244.70M451.66 265.90L483.84 237.20M483.84 237.20L531.67 251.60M451.85 269.48L483.89 240.70M483.89 240.70L531.62 255.18M451.49 262.60L483.80 233.96M483.80 233.96L531.72 248.29M451.48 262.32L483.79 233.69M483.79 233.69L531.72 248.02M451.14 255.81L483.71 227.32M483.71 227.32L531.82 241.51M451.12 255.39L483.70 226.91M483.70 226.91L531.83 241.09M450.77 248.60L483.62 220.27M483.62 220.27L531.93 234.30M450.69 247.02L483.60 218.72M483.60 218.72L531.95 232.72M450.32 239.81L483.50 211.67M483.50 211.67L532.06 225.51M450.30 239.48L483.50 211.35M483.50 211.35L532.07 225.18M449.93 232.28L483.41 204.30M483.41 204.30L532.18 217.98M449.56 225.12L483.31 197.29M483.31 197.29L532.28 210.82M483.90 241.70L483.30 196.20M483.30 196.20L532.30 209.70M483.30 196.20L449.50 224.00M483.90 241.70L531.60 256.20M483.90 241.70L451.90 270.50" stroke="#cdcdcd" stroke-width="0.5" fill="none"/>
<path d="M451.90 270.50L503.10 291.30L531.60 256.20" stroke="#555" stroke-width="0.65" fill="none"/>
<path d="M531.60 256.20L532.30 209.70" stroke="#8a8a8a" stroke-width="0.55" fill="none"/>
<text transform="translate(533.47 217.60) scale(0.86 1)" font-size="6.4" text-anchor="start" fill="#000" stroke="#000" stroke-width="0.18">0.252</text>
<text transform="translate(533.29 224.80) scale(0.86 1)" font-size="6.4" text-anchor="start" fill="#000" stroke="#000" stroke-width="0.18">0.250</text>
<text transform="translate(533.11 232.30) scale(0.86 1)" font-size="6.4" text-anchor="start" fill="#000" stroke="#000" stroke-width="0.18">0.248</text>
<text transform="translate(532.90 241.10) scale(0.86 1)" font-size="6.4" text-anchor="start" fill="#000" stroke="#000" stroke-width="0.18">0.246</text>
<text transform="translate(532.74 247.90) scale(0.86 1)" font-size="6.4" text-anchor="start" fill="#000" stroke="#000" stroke-width="0.18">0.244</text>
<text transform="translate(532.57 254.80) scale(0.86 1)" font-size="6.4" text-anchor="start" fill="#000" stroke="#000" stroke-width="0.18">0.242</text>
<text transform="translate(454.25 274.73) scale(0.86 1) rotate(-31)" font-size="6.0" text-anchor="end" fill="#000" stroke="#000" stroke-width="0.18">−0.088</text>
<text transform="translate(465.00 279.10) scale(0.86 1) rotate(-31)" font-size="6.0" text-anchor="end" fill="#000" stroke="#000" stroke-width="0.18">−0.086</text>
<text transform="translate(474.73 283.05) scale(0.86 1) rotate(-31)" font-size="6.0" text-anchor="end" fill="#000" stroke="#000" stroke-width="0.18">−0.084</text>
<text transform="translate(485.99 287.63) scale(0.86 1) rotate(-31)" font-size="6.0" text-anchor="end" fill="#000" stroke="#000" stroke-width="0.18">−0.082</text>
<text transform="translate(496.74 292.00) scale(0.86 1) rotate(-31)" font-size="6.0" text-anchor="end" fill="#000" stroke="#000" stroke-width="0.18">−0.080</text>
<text transform="translate(528.47 264.92) scale(0.86 1) rotate(20)" font-size="6.2" text-anchor="start" fill="#000" stroke="#000" stroke-width="0.18">−0.0605</text>
<text transform="translate(523.57 270.96) scale(0.86 1) rotate(20)" font-size="6.2" text-anchor="start" fill="#000" stroke="#000" stroke-width="0.18">−0.0610</text>
<text transform="translate(518.67 276.99) scale(0.86 1) rotate(20)" font-size="6.2" text-anchor="start" fill="#000" stroke="#000" stroke-width="0.18">−0.0615</text>
<text transform="translate(513.76 283.03) scale(0.86 1) rotate(20)" font-size="6.2" text-anchor="start" fill="#000" stroke="#000" stroke-width="0.18">−0.0620</text>
<text transform="translate(508.86 289.07) scale(0.86 1) rotate(20)" font-size="6.2" text-anchor="start" fill="#000" stroke="#000" stroke-width="0.18">−0.0625</text>
<path d="M531.42 214.40h1.7M531.31 221.60h1.7M531.19 229.10h1.7M531.06 237.90h1.7M530.96 244.70h1.7M530.86 251.60h1.7" stroke="#444" stroke-width="0.5" fill="none"/>
<text x="453" y="192.0" font-size="8.7" fill="#000" stroke="#000" stroke-width="0.12">after 30,000x training</text>
<rect x="490.35" y="213.60" width="5.3" height="6.8" fill="#72f5b0"/>
<rect x="501.35" y="235.60" width="5.3" height="6.8" fill="#72f5b0"/>
<rect x="501.35" y="247.60" width="5.3" height="6.8" fill="#72f5b0"/>
<rect x="513.35" y="246.60" width="5.3" height="6.8" fill="#72f5b0"/>
<rect x="473.75" y="196.60" width="5.3" height="6.8" fill="#6a00f4"/>
<rect x="478.35" y="201.60" width="5.3" height="6.8" fill="#6a00f4"/>
<rect x="488.35" y="205.60" width="5.3" height="6.8" fill="#6a00f4"/>
<rect x="479.35" y="207.60" width="5.3" height="6.8" fill="#6a00f4"/>
<rect x="485.35" y="208.60" width="5.3" height="6.8" fill="#6a00f4"/>
<rect x="493.35" y="209.60" width="5.3" height="6.8" fill="#6a00f4"/>
<rect x="480.35" y="212.60" width="5.3" height="6.8" fill="#6a00f4"/>
<rect x="491.35" y="214.10" width="5.3" height="6.8" fill="#6a00f4"/>
<rect x="489.35" y="217.60" width="5.3" height="6.8" fill="#6a00f4"/>
<rect x="497.35" y="217.60" width="5.3" height="6.8" fill="#6a00f4"/>
<rect x="494.35" y="221.60" width="5.3" height="6.8" fill="#6a00f4"/>
<rect x="482.35" y="224.60" width="5.3" height="6.8" fill="#6a00f4"/>
<rect x="487.35" y="223.60" width="5.3" height="6.8" fill="#6a00f4"/>
<rect x="503.35" y="224.60" width="5.3" height="6.8" fill="#6a00f4"/>
<rect x="497.35" y="227.60" width="5.3" height="6.8" fill="#6a00f4"/>
<rect x="482.35" y="229.60" width="5.3" height="6.8" fill="#6a00f4"/>
<rect x="491.35" y="229.60" width="5.3" height="6.8" fill="#6a00f4"/>
<rect x="487.35" y="234.60" width="5.3" height="6.8" fill="#6a00f4"/>
<rect x="495.35" y="234.60" width="5.3" height="6.8" fill="#6a00f4"/>
<rect x="502.35" y="233.60" width="5.3" height="6.8" fill="#6a00f4"/>
<rect x="507.35" y="235.10" width="5.3" height="6.8" fill="#6a00f4"/>
<rect x="513.85" y="237.10" width="5.3" height="6.8" fill="#6a00f4"/>
<rect x="505.35" y="238.60" width="5.3" height="6.8" fill="#6a00f4"/>
<rect x="491.35" y="240.60" width="5.3" height="6.8" fill="#6a00f4"/>
<rect x="497.35" y="238.60" width="5.3" height="6.8" fill="#6a00f4"/>
<rect x="510.35" y="238.60" width="5.3" height="6.8" fill="#6a00f4"/>
<rect x="493.35" y="241.00" width="5.3" height="6.8" fill="#6a00f4"/>
<rect x="504.35" y="241.60" width="5.3" height="6.8" fill="#6a00f4"/>
<rect x="495.35" y="244.60" width="5.3" height="6.8" fill="#6a00f4"/>
<rect x="506.35" y="246.60" width="5.3" height="6.8" fill="#6a00f4"/>
<rect x="518.35" y="245.60" width="5.3" height="6.8" fill="#6a00f4"/>
<rect x="508.35" y="252.60" width="5.3" height="6.8" fill="#6a00f4"/>
<rect x="505.35" y="256.60" width="5.3" height="6.8" fill="#6a00f4"/>
<rect x="510.35" y="259.60" width="5.3" height="6.8" fill="#6a00f4"/>
<rect x="488.35" y="256.60" width="5.3" height="6.8" fill="#6a00f4"/>
<rect x="500.95" y="284.60" width="5.3" height="6.8" fill="#6a00f4"/>
<text x="493.00" y="218.65" font-size="4.4" font-weight="bold" text-anchor="middle" fill="#1d4a33">1</text>
<text x="504.00" y="240.65" font-size="4.4" font-weight="bold" text-anchor="middle" fill="#1d4a33">1</text>
<text x="504.00" y="252.65" font-size="4.4" font-weight="bold" text-anchor="middle" fill="#1d4a33">1</text>
<text x="516.00" y="251.65" font-size="4.4" font-weight="bold" text-anchor="middle" fill="#1d4a33">1</text>
<text x="476.40" y="201.65" font-size="4.4" font-weight="bold" text-anchor="middle" fill="#2b0878">0</text>
<text x="481.00" y="206.65" font-size="4.4" font-weight="bold" text-anchor="middle" fill="#2b0878">0</text>
<text x="491.00" y="210.65" font-size="4.4" font-weight="bold" text-anchor="middle" fill="#2b0878">0</text>
<text x="482.00" y="212.65" font-size="4.4" font-weight="bold" text-anchor="middle" fill="#2b0878">0</text>
<text x="488.00" y="213.65" font-size="4.4" font-weight="bold" text-anchor="middle" fill="#2b0878">0</text>
<text x="496.00" y="214.65" font-size="4.4" font-weight="bold" text-anchor="middle" fill="#2b0878">0</text>
<text x="483.00" y="217.65" font-size="4.4" font-weight="bold" text-anchor="middle" fill="#2b0878">0</text>
<text x="494.00" y="219.15" font-size="4.4" font-weight="bold" text-anchor="middle" fill="#2b0878">0</text>
<text x="492.00" y="222.65" font-size="4.4" font-weight="bold" text-anchor="middle" fill="#2b0878">0</text>
<text x="500.00" y="222.65" font-size="4.4" font-weight="bold" text-anchor="middle" fill="#2b0878">0</text>
<text x="497.00" y="226.65" font-size="4.4" font-weight="bold" text-anchor="middle" fill="#2b0878">0</text>
<text x="485.00" y="229.65" font-size="4.4" font-weight="bold" text-anchor="middle" fill="#2b0878">0</text>
<text x="490.00" y="228.65" font-size="4.4" font-weight="bold" text-anchor="middle" fill="#2b0878">0</text>
<text x="506.00" y="229.65" font-size="4.4" font-weight="bold" text-anchor="middle" fill="#2b0878">0</text>
<text x="500.00" y="232.65" font-size="4.4" font-weight="bold" text-anchor="middle" fill="#2b0878">0</text>
<text x="485.00" y="234.65" font-size="4.4" font-weight="bold" text-anchor="middle" fill="#2b0878">0</text>
<text x="494.00" y="234.65" font-size="4.4" font-weight="bold" text-anchor="middle" fill="#2b0878">0</text>
<text x="490.00" y="239.65" font-size="4.4" font-weight="bold" text-anchor="middle" fill="#2b0878">0</text>
<text x="498.00" y="239.65" font-size="4.4" font-weight="bold" text-anchor="middle" fill="#2b0878">0</text>
<text x="505.00" y="238.65" font-size="4.4" font-weight="bold" text-anchor="middle" fill="#2b0878">0</text>
<text x="510.00" y="240.15" font-size="4.4" font-weight="bold" text-anchor="middle" fill="#2b0878">0</text>
<text x="516.50" y="242.15" font-size="4.4" font-weight="bold" text-anchor="middle" fill="#2b0878">0</text>
<text x="508.00" y="243.65" font-size="4.4" font-weight="bold" text-anchor="middle" fill="#2b0878">0</text>
<text x="494.00" y="245.65" font-size="4.4" font-weight="bold" text-anchor="middle" fill="#2b0878">0</text>
<text x="500.00" y="243.65" font-size="4.4" font-weight="bold" text-anchor="middle" fill="#2b0878">0</text>
<text x="513.00" y="243.65" font-size="4.4" font-weight="bold" text-anchor="middle" fill="#2b0878">0</text>
<text x="496.00" y="246.05" font-size="4.4" font-weight="bold" text-anchor="middle" fill="#2b0878">0</text>
<text x="507.00" y="246.65" font-size="4.4" font-weight="bold" text-anchor="middle" fill="#2b0878">0</text>
<text x="498.00" y="249.65" font-size="4.4" font-weight="bold" text-anchor="middle" fill="#2b0878">0</text>
<text x="509.00" y="251.65" font-size="4.4" font-weight="bold" text-anchor="middle" fill="#2b0878">0</text>
<text x="521.00" y="250.65" font-size="4.4" font-weight="bold" text-anchor="middle" fill="#2b0878">0</text>
<text x="511.00" y="257.65" font-size="4.4" font-weight="bold" text-anchor="middle" fill="#2b0878">0</text>
<text x="508.00" y="261.65" font-size="4.4" font-weight="bold" text-anchor="middle" fill="#2b0878">0</text>
<text x="513.00" y="264.65" font-size="4.4" font-weight="bold" text-anchor="middle" fill="#2b0878">0</text>
<text x="491.00" y="261.65" font-size="4.4" font-weight="bold" text-anchor="middle" fill="#2b0878">0</text>
<text x="503.60" y="289.65" font-size="4.4" font-weight="bold" text-anchor="middle" fill="#2b0878">0</text>
<rect x="301" y="309.4" width="5.4" height="6.6" fill="#6a00f4"/>
<text x="303.7" y="314.4" font-size="4.6" text-anchor="middle" fill="#1c0550">0</text>
<rect x="301" y="319.5" width="5.3" height="6.6" fill="#72f5b0"/>
<text x="303.7" y="324.7" font-size="4.6" text-anchor="middle" fill="#12301f">1</text>
<text x="309.4" y="315.2" font-size="6.5" fill="#000" textLength="79.6" lengthAdjust="spacingAndGlyphs">Observed incident MI cases</text>
<text x="309.4" y="325.8" font-size="6.5" fill="#000" textLength="134.4" lengthAdjust="spacingAndGlyphs">Generated feature-enhanced incident MI cases</text>
</svg></body></html>
